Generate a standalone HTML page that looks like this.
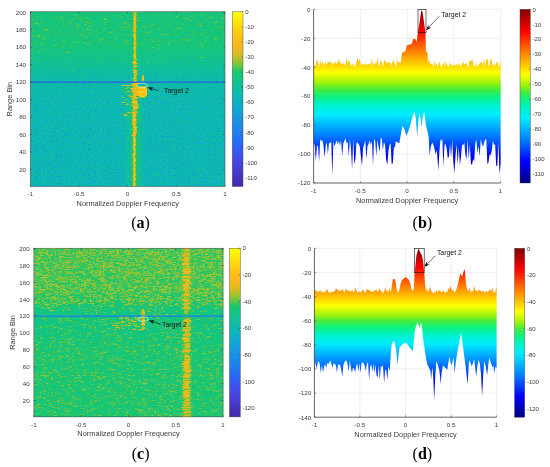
<!DOCTYPE html>
<html><head><meta charset="utf-8"><title>Figure</title>
<style>html,body{margin:0;padding:0;background:#fff}svg{display:block}text{font-family:"Liberation Sans",sans-serif;fill:#3a3a3a}.t{font-size:6.25px}.c{font-size:6px}.l{font-size:7.4px}.a{font-size:6.9px;fill:#111}.cap{font-family:"Liberation Serif",serif;font-size:16px;fill:#000}</style></head><body>
<svg width="550" height="467" viewBox="0 0 550 467">
<defs>
<linearGradient id="par" x1="0" y1="0" x2="0" y2="1"><stop offset="0%" stop-color="#fafa0f"/><stop offset="4.3%" stop-color="#ffed0a"/><stop offset="8.6%" stop-color="#ffd90d"/><stop offset="12.9%" stop-color="#ffc712"/><stop offset="17.2%" stop-color="#fcb81a"/><stop offset="21.6%" stop-color="#f0b81f"/><stop offset="24.1%" stop-color="#d9bd21"/><stop offset="27.6%" stop-color="#a8c22e"/><stop offset="30.2%" stop-color="#78c440"/><stop offset="32.8%" stop-color="#38c75c"/><stop offset="34.5%" stop-color="#1ac76e"/><stop offset="38.8%" stop-color="#12c487"/><stop offset="43.1%" stop-color="#0fbf9e"/><stop offset="47.4%" stop-color="#0dbab2"/><stop offset="51.7%" stop-color="#0ab2c4"/><stop offset="56%" stop-color="#0fa6d4"/><stop offset="60.3%" stop-color="#1799e0"/><stop offset="64.7%" stop-color="#1c8ce8"/><stop offset="69%" stop-color="#1f80f0"/><stop offset="73.3%" stop-color="#2470f5"/><stop offset="77.6%" stop-color="#2e61f5"/><stop offset="81.9%" stop-color="#4052ed"/><stop offset="86.2%" stop-color="#4745e0"/><stop offset="90.5%" stop-color="#473bd1"/><stop offset="94.8%" stop-color="#4533bf"/><stop offset="100%" stop-color="#4029ab"/></linearGradient>
<linearGradient id="jet" x1="0" y1="0" x2="0" y2="1"><stop offset="0%" stop-color="#800000"/><stop offset="12.5%" stop-color="#ff0000"/><stop offset="25%" stop-color="#ff8000"/><stop offset="37.5%" stop-color="#ffff00"/><stop offset="44%" stop-color="#99f20d"/><stop offset="48%" stop-color="#40eb40"/><stop offset="52%" stop-color="#0df280"/><stop offset="57%" stop-color="#00f2cc"/><stop offset="62.5%" stop-color="#00edff"/><stop offset="75%" stop-color="#0080ff"/><stop offset="87.5%" stop-color="#0000ff"/><stop offset="100%" stop-color="#000080"/></linearGradient>
<linearGradient id="jetB" gradientUnits="userSpaceOnUse" x1="0" y1="9.3" x2="0" y2="177.2"><stop offset="0%" stop-color="#800000"/><stop offset="12.5%" stop-color="#ff0000"/><stop offset="25%" stop-color="#ff8000"/><stop offset="37.5%" stop-color="#ffff00"/><stop offset="44%" stop-color="#99f20d"/><stop offset="48%" stop-color="#40eb40"/><stop offset="52%" stop-color="#0df280"/><stop offset="57%" stop-color="#00f2cc"/><stop offset="62.5%" stop-color="#00edff"/><stop offset="75%" stop-color="#0080ff"/><stop offset="87.5%" stop-color="#0000ff"/><stop offset="100%" stop-color="#000080"/></linearGradient>
<linearGradient id="jetD" gradientUnits="userSpaceOnUse" x1="0" y1="248.3" x2="0" y2="400.9"><stop offset="0%" stop-color="#800000"/><stop offset="12.5%" stop-color="#ff0000"/><stop offset="25%" stop-color="#ff8000"/><stop offset="37.5%" stop-color="#ffff00"/><stop offset="44%" stop-color="#99f20d"/><stop offset="48%" stop-color="#40eb40"/><stop offset="52%" stop-color="#0df280"/><stop offset="57%" stop-color="#00f2cc"/><stop offset="62.5%" stop-color="#00edff"/><stop offset="75%" stop-color="#0080ff"/><stop offset="87.5%" stop-color="#0000ff"/><stop offset="100%" stop-color="#000080"/></linearGradient>
<filter id="fa" filterUnits="userSpaceOnUse" x="30.3" y="11.8" width="194.7" height="174.7" color-interpolation-filters="sRGB">
<feTurbulence type="fractalNoise" baseFrequency="0.85" numOctaves="1" seed="3" result="n"/>
<feColorMatrix in="n" type="matrix" values="1 0 0 0 0 1 0 0 0 0 1 0 0 0 0 0 0 0 0 1" result="g"/>
<feComponentTransfer in="g" result="s"><feFuncR type="table" tableValues="1 1 1 1 0.899 0.752 0.626 0.519 0.429 0.353 0.29 0.236 0.19 0.15 0.115 0.084 0.056 0.031 0.008 0 0"/><feFuncG type="table" tableValues="1 1 1 1 0.899 0.752 0.626 0.519 0.429 0.353 0.29 0.236 0.19 0.15 0.115 0.084 0.056 0.031 0.008 0 0"/><feFuncB type="table" tableValues="1 1 1 1 0.899 0.752 0.626 0.519 0.429 0.353 0.29 0.236 0.19 0.15 0.115 0.084 0.056 0.031 0.008 0 0"/></feComponentTransfer>
<feComposite in="SourceGraphic" in2="s" operator="arithmetic" k1="1.6000" k2="0.5040" k3="-1.1920" k4="0.3695"/>
<feComponentTransfer><feFuncR type="table" tableValues="0.25 0.256 0.262 0.268 0.273 0.276 0.28 0.28 0.28 0.277 0.266 0.254 0.235 0.209 0.183 0.167 0.152 0.139 0.131 0.124 0.118 0.115 0.111 0.105 0.097 0.09 0.079 0.068 0.058 0.05 0.043 0.042 0.046 0.05 0.053 0.057 0.061 0.064 0.068 0.075 0.086 0.097 0.18 0.318 0.471 0.588 0.693 0.781 0.861 0.917 0.951 0.969 0.987 0.993 0.997 1 1 1 1 1 1 0.995 0.987 0.98"/><feFuncG type="table" tableValues="0.16 0.172 0.185 0.197 0.208 0.219 0.23 0.245 0.26 0.276 0.294 0.313 0.333 0.355 0.377 0.399 0.422 0.444 0.466 0.488 0.508 0.527 0.545 0.563 0.582 0.6 0.619 0.637 0.656 0.674 0.692 0.706 0.718 0.729 0.736 0.744 0.751 0.759 0.766 0.772 0.775 0.779 0.78 0.776 0.77 0.764 0.757 0.747 0.737 0.725 0.72 0.72 0.72 0.739 0.761 0.784 0.81 0.835 0.863 0.892 0.922 0.943 0.962 0.98"/><feFuncB type="table" tableValues="0.67 0.695 0.719 0.744 0.769 0.795 0.821 0.843 0.865 0.886 0.904 0.923 0.937 0.948 0.959 0.96 0.96 0.959 0.951 0.944 0.935 0.924 0.913 0.902 0.891 0.88 0.861 0.843 0.823 0.801 0.779 0.755 0.729 0.703 0.674 0.645 0.615 0.582 0.549 0.514 0.477 0.44 0.383 0.317 0.25 0.207 0.171 0.148 0.129 0.123 0.116 0.108 0.101 0.09 0.079 0.069 0.062 0.054 0.048 0.045 0.041 0.045 0.053 0.06"/></feComponentTransfer>
</filter>
<filter id="fc" filterUnits="userSpaceOnUse" x="33.9" y="248.2" width="189.2" height="168.7" color-interpolation-filters="sRGB">
<feTurbulence type="fractalNoise" baseFrequency="0.6 0.85" numOctaves="1" seed="11" result="n"/>
<feColorMatrix in="n" type="matrix" values="1 0 0 0 0 1 0 0 0 0 1 0 0 0 0 0 0 0 0 1" result="g"/>
<feComponentTransfer in="g" result="s"><feFuncR type="table" tableValues="0 0 0 0 .101 .248 .374 .481 .571 .647 .71 .764 .81 .85 .885 .916 .944 .969 .992 1 1"/><feFuncG type="table" tableValues="0 0 0 0 .101 .248 .374 .481 .571 .647 .71 .764 .81 .85 .885 .916 .944 .969 .992 1 1"/><feFuncB type="table" tableValues="0 0 0 0 .101 .248 .374 .481 .571 .647 .71 .764 .81 .85 .885 .916 .944 .969 .992 1 1"/></feComponentTransfer>
<feComposite in="SourceGraphic" in2="s" operator="arithmetic" k1="0.0000" k2="1.0000" k3="0.1300" k4="-0.0897"/>
<feComponentTransfer><feFuncR type="table" tableValues="0.25 0.256 0.262 0.268 0.273 0.276 0.28 0.28 0.28 0.277 0.266 0.254 0.235 0.209 0.183 0.167 0.152 0.139 0.131 0.124 0.118 0.115 0.111 0.105 0.097 0.09 0.079 0.068 0.058 0.05 0.043 0.042 0.046 0.05 0.053 0.057 0.061 0.064 0.068 0.075 0.086 0.097 0.18 0.318 0.471 0.588 0.693 0.781 0.861 0.917 0.951 0.969 0.987 0.993 0.997 1 1 1 1 1 1 0.995 0.987 0.98"/><feFuncG type="table" tableValues="0.16 0.172 0.185 0.197 0.208 0.219 0.23 0.245 0.26 0.276 0.294 0.313 0.333 0.355 0.377 0.399 0.422 0.444 0.466 0.488 0.508 0.527 0.545 0.563 0.582 0.6 0.619 0.637 0.656 0.674 0.692 0.706 0.718 0.729 0.736 0.744 0.751 0.759 0.766 0.772 0.775 0.779 0.78 0.776 0.77 0.764 0.757 0.747 0.737 0.725 0.72 0.72 0.72 0.739 0.761 0.784 0.81 0.835 0.863 0.892 0.922 0.943 0.962 0.98"/><feFuncB type="table" tableValues="0.67 0.695 0.719 0.744 0.769 0.795 0.821 0.843 0.865 0.886 0.904 0.923 0.937 0.948 0.959 0.96 0.96 0.959 0.951 0.944 0.935 0.924 0.913 0.902 0.891 0.88 0.861 0.843 0.823 0.801 0.779 0.755 0.729 0.703 0.674 0.645 0.615 0.582 0.549 0.514 0.477 0.44 0.383 0.317 0.25 0.207 0.171 0.148 0.129 0.123 0.116 0.108 0.101 0.09 0.079 0.069 0.062 0.054 0.048 0.045 0.041 0.045 0.053 0.06"/></feComponentTransfer>
</filter>
<clipPath id="ca"><rect x="30.3" y="11.8" width="194.7" height="174.7"/></clipPath>
<clipPath id="cc"><rect x="33.9" y="248.2" width="189.2" height="168.7"/></clipPath>
</defs>
<rect width="550" height="467" fill="#fff"/>
<g clip-path="url(#ca)"><g filter="url(#fa)">
<defs><linearGradient id="ga" gradientUnits="userSpaceOnUse" x1="0" y1="11.8" x2="0" y2="186.5"><stop offset="0.0000" stop-color="#a1a1a1"/><stop offset="0.1900" stop-color="#a1a1a1"/><stop offset="0.2759" stop-color="#999999"/><stop offset="0.3446" stop-color="#8f8f8f"/><stop offset="0.3961" stop-color="#888888"/><stop offset="0.4133" stop-color="#8a8a8a"/><stop offset="0.5049" stop-color="#868686"/><stop offset="0.6766" stop-color="#848484"/><stop offset="1.0000" stop-color="#838383"/></linearGradient></defs>
<rect x="29.3" y="10.8" width="196.7" height="176.7" fill="url(#ga)"/>
<path d="M185.1 40.7h4M157.3 40.1h3M214 39h4M40.4 19.3h2M78.3 33.6h3M50.2 31h2M84.7 30.1h3M61.4 16.1h1.5M55 34.4h1.5M219.6 38.1h1.5M221.6 18.7h2M86.6 29.6h2M70.2 46.9h4M68.6 22.9h3M62.6 21.1h2M81.7 34.7h2M31 24.3h4M168.1 43.2h1.5M123.9 29.8h2M66.3 52.6h3M220.2 16.9h1.5M215.1 22h2M183.7 17.2h2M103.6 18.3h1.5M151.7 47.8h2M53.5 24.9h2M97.4 62.3h2M204.1 37.3h2M176 16.5h2M197.7 25.2h1.5M70.9 70.4h3M149.2 39.7h2M136.4 41.6h2M163.9 57h2M59.3 18.7h4M90.5 22.8h3M222.4 18.5h3M210.1 20.7h1.5M191.2 17.1h3M157 44.2h2M36.7 60.8h3M95.4 31.6h2M215.2 39.1h4M204.8 40.9h3M59.4 33.2h3M87.7 29.4h3M63.3 41.8h3M118.6 29.2h3M83.7 22h3M108.9 32.6h2M133.8 45.9h2M152.4 41.4h3M126.1 24.2h3M182.6 25h3M181.2 39.7h4M144.7 44.4h1.5M167.5 16.1h2M192.9 35.7h2M87.5 19h2M156.8 48.3h3M180.9 29.7h2M161.1 34.8h3M161.5 21.1h2M98 39.9h4M109.8 44.1h2M199.7 57.5h4M95.4 34.7h2M133.4 21.3h2M196.5 21.4h2M164.9 34.6h4M150.4 25.7h3M130.9 34.9h3M199.1 23.9h2M170.6 41.2h1.5M151.8 24.6h2M72.9 42.3h4M222.4 29.6h2M62.6 46.5h2M124.3 59.1h3M37.2 51.8h3M44.3 34h2M76.6 40.9h2M84.5 37.2h3M199 14.9h4M37.3 25.2h3M89 33.4h2M143.4 34h2M189.7 20.4h3M135.1 38.7h3M58 30.1h3M69.1 33.4h2M148.8 31.6h2M104.6 28.8h2M140.5 44h3M201 33.7h3M103.5 19.6h3M123.7 40.2h4M104.2 18.5h2M221.3 28.9h3M79.2 24.5h1.5M126 41.5h2M58.2 72.3h1.5M116.6 36.9h2M38.1 36.1h2M134 16.5h2M77.7 18h3M82.4 18.1h2M170.8 31h2M122.7 22.9h4M198.4 43.8h4M54.8 17.9h2M134.2 17.2h2M35.5 41.8h2M100.6 38.1h4M30.9 19.3h3M119 25.6h1.5M33.1 35.9h3M146.1 32.7h4M124.1 22.9h3M122.9 44.8h4M88 23.5h1.5M89.4 26.5h1.5M86.1 22.8h3M207.6 36.8h2M203.3 32h2M135 44h3M43.6 49.3h2M82.3 35.5h1.5M35.3 23.2h4M113.9 46.2h1.5M39.8 49h1.5M73 15.2h4M204.5 19.6h2M167.7 24.3h3M110.9 32.6h2M43.4 39.2h2M104.1 24.9h1.5M84.8 17.6h3M201.3 47.1h2M32.2 31.3h1.5M125.6 26.6h4M103.2 42.2h1.5M141 26.7h4M128.8 28.8h3M42.6 29.6h2M79.8 19.6h2M75.9 26.5h2M118.6 16.1h3M157.8 29.7h1.5M141.9 46.2h1.5M145.9 24.3h2M106.2 21h3M185.4 34.1h1.5M135.8 17.2h3M215.7 26.7h4M185 19h4M159.8 58.8h2M57.5 54.1h3M86.7 44.5h3M167.6 44.2h3M100.1 40.2h2M186.9 39.2h3M37.4 35h3M72.1 19.8h2M36.8 22.7h2M68.4 20.9h3M178.3 34.1h1.5M113.4 31h2M113.8 38.3h3M120.2 34.3h2M103.2 22.1h3M199.5 25.5h3M84.3 24.5h2M176.4 28.6h4M36.5 17.1h2M91.8 39.9h1.5M122.1 27.4h2M53.3 45.2h4M77 25.7h2M36.8 36.4h4M45.5 30.5h3M207.8 17.3h4M121.4 27.3h2M43.3 29.1h4M64.5 52.1h2M213.4 22.4h4M83 42.3h3M42.2 37.2h4M137.1 20.4h3M140.3 18.4h1.5M186.7 18.2h1.5M212.5 30.6h1.5M127.1 27.8h1.5M39.6 43.7h3M200.7 44.5h2M65.2 25.3h3M75.8 23.8h2M184.3 25.8h1.5M146.8 62.7h4M72 27.7h1.5" stroke="#b2b2b2" stroke-width="1" fill="none"/>
<path d="M99.9 129.2h2M103.6 142.6h3M32.7 97.6h2M203.9 154.6h1.5M57.3 140.8h2M180.7 93h2M55.6 116.1h1.5M166 132.3h2M160 183.2h2M166.7 90.3h1.5M185.3 156.1h2M44.3 174.8h2M180.1 122.9h1.5M157.7 175.8h1.5M116.4 142.9h3M216.2 151.2h3M113.6 88.8h1.5M104.8 167.2h1.5M90 116.9h1.5M161.9 110.9h2M135.9 87.5h3M35.6 141.1h1.5M191.2 183.4h2M215.1 172.1h3M133 85.7h1.5M94.6 121.1h1.5M150.9 100.7h1.5M48.9 158.5h3M153.1 146.1h1.5M213 129.7h2M92 96.1h1.5M114.8 131.3h2M160.4 89h1.5M219.1 138.6h3M55 84.2h2M70.7 154.3h1.5M142.6 87.4h2M99.3 156.3h2M84.2 106.1h1.5M130.7 115.1h1.5M187.8 121.6h3M195.8 170.1h3M98.3 134.7h1.5M125.7 169.2h1.5M107.6 93.6h3M209.6 112.8h2M121.8 132.9h3M186.1 147.9h2M50.5 154.6h3M66.3 144.1h2M162.3 86.3h3M104.8 116h2M164.8 139.9h2M189.1 184.7h3M42.2 141.1h1.5M100.9 165.9h3M180.2 86.1h1.5M45.4 113.1h1.5M149.2 163.3h3M218.9 126.3h1.5M169.7 112.1h1.5M47.5 87.9h2M164.2 176h3M139.7 146.1h2M204.8 137h1.5M183.3 119.1h2M30.9 124.3h2M176.5 122.7h3M207.5 176.2h3M93.4 116.9h3M164.3 175.2h2M49.8 109.5h2M82.4 115.3h3M215.4 92h1.5M179.5 148.9h1.5M141.3 151.2h3M201.4 169.1h3M75.2 125.7h2M206.5 138.2h2M46.7 126.9h2M36.2 103.2h1.5M138.4 114.3h3M67.3 102.8h3M183.5 94.5h2M42.3 158.7h2M131.4 98.1h1.5M195.9 116.6h3M205.9 123.4h3M185.6 147.1h1.5M161.2 84.2h1.5M59.9 93.5h3M142.2 161.9h2M189.2 159.5h1.5M210.2 157.1h3M218.2 148.1h1.5M188.8 121.4h1.5M103.2 105.2h2M222.6 175.3h1.5M213.6 109.2h2M53.2 122.5h3M56.1 182.6h1.5M217.7 134.8h3M178.2 91.4h3M33.4 157h2M176.5 186.4h1.5M104.7 178.1h2M155.4 176.8h1.5M87.9 143h2M42.6 180.7h2M112.2 89.2h1.5M170.5 111.8h1.5M49 111.8h2M65.3 128.3h2M78 171.7h2M188.2 120.5h1.5M57.7 167.8h1.5M139.8 86.2h2M45.6 173h1.5M186.7 103.9h1.5M46.9 132.4h2" stroke="#9e9e9e" stroke-width="1" fill="none"/>
<rect x="131.4" y="11.8" width="7" height="174.7" fill="#adadad" opacity="0.45"/>
<rect x="125.9" y="97" width="17" height="89.5" fill="#999999" opacity="0.55"/>
<rect x="129.9" y="97" width="9" height="89.5" fill="#a6a6a6" opacity="0.6"/>
<rect x="134" y="11.8" width="2.3" height="1.1" fill="#cccccc"/>
<rect x="133.5" y="12.8" width="2.3" height="1.1" fill="#cccccc"/>
<rect x="133.7" y="13.8" width="2.5" height="1.1" fill="#bdbdbd"/>
<rect x="133.7" y="14.8" width="2.6" height="1.1" fill="#bdbdbd"/>
<rect x="133.4" y="15.8" width="2.4" height="1.1" fill="#dbdbdb"/>
<rect x="134" y="16.8" width="2.2" height="1.1" fill="#cccccc"/>
<rect x="133.5" y="17.8" width="2.6" height="1.1" fill="#d6d6d6"/>
<rect x="133.4" y="18.8" width="2.6" height="1.1" fill="#d6d6d6"/>
<rect x="134.1" y="19.8" width="2.2" height="1.1" fill="#d1d1d1"/>
<rect x="133.8" y="20.8" width="2" height="1.1" fill="#d1d1d1"/>
<rect x="133.8" y="21.8" width="1.9" height="1.1" fill="#dbdbdb"/>
<rect x="133.4" y="22.8" width="2.4" height="1.1" fill="#d6d6d6"/>
<rect x="133.4" y="23.8" width="2.5" height="1.1" fill="#cccccc"/>
<rect x="133.9" y="24.8" width="1.8" height="1.1" fill="#d6d6d6"/>
<rect x="133.6" y="25.8" width="2" height="1.1" fill="#cccccc"/>
<rect x="133.6" y="26.8" width="2.7" height="1.1" fill="#d6d6d6"/>
<rect x="133.5" y="27.8" width="2.2" height="1.1" fill="#d1d1d1"/>
<rect x="133.2" y="28.8" width="2.6" height="1.1" fill="#d6d6d6"/>
<rect x="133.3" y="29.8" width="2.5" height="1.1" fill="#d6d6d6"/>
<rect x="133.6" y="30.8" width="2.5" height="1.1" fill="#d6d6d6"/>
<rect x="133.9" y="31.8" width="1.9" height="1.1" fill="#bdbdbd"/>
<rect x="133.7" y="32.8" width="1.9" height="1.1" fill="#cccccc"/>
<rect x="133.7" y="33.8" width="2.1" height="1.1" fill="#cccccc"/>
<rect x="133.7" y="34.8" width="2.3" height="1.1" fill="#d6d6d6"/>
<rect x="133.3" y="35.8" width="2.7" height="1.1" fill="#dbdbdb"/>
<rect x="133.9" y="36.8" width="2.3" height="1.1" fill="#d6d6d6"/>
<rect x="134" y="37.8" width="2" height="1.1" fill="#dbdbdb"/>
<rect x="134.2" y="38.8" width="1.8" height="1.1" fill="#cccccc"/>
<rect x="134" y="39.8" width="2" height="1.1" fill="#d6d6d6"/>
<rect x="133.3" y="40.8" width="2.5" height="1.1" fill="#bdbdbd"/>
<rect x="134" y="41.8" width="2" height="1.1" fill="#d1d1d1"/>
<rect x="133.7" y="42.8" width="2.5" height="1.1" fill="#cccccc"/>
<rect x="133.9" y="43.8" width="2.2" height="1.1" fill="#d1d1d1"/>
<rect x="133.6" y="44.8" width="2.3" height="1.1" fill="#bdbdbd"/>
<rect x="133.9" y="45.8" width="2.6" height="1.1" fill="#cccccc"/>
<rect x="133.6" y="46.8" width="2.1" height="1.1" fill="#dbdbdb"/>
<rect x="133.4" y="47.8" width="2.4" height="1.1" fill="#d6d6d6"/>
<rect x="133.7" y="48.8" width="2.3" height="1.1" fill="#bdbdbd"/>
<rect x="133.9" y="49.8" width="2.1" height="1.1" fill="#cccccc"/>
<rect x="133.8" y="50.8" width="1.9" height="1.1" fill="#cccccc"/>
<rect x="134" y="51.8" width="1.8" height="1.1" fill="#bdbdbd"/>
<rect x="133.5" y="52.8" width="2.2" height="1.1" fill="#dbdbdb"/>
<rect x="134.2" y="53.8" width="1.9" height="1.1" fill="#d1d1d1"/>
<rect x="133.4" y="54.8" width="2.7" height="1.1" fill="#d1d1d1"/>
<rect x="133.5" y="55.8" width="2.2" height="1.1" fill="#dbdbdb"/>
<rect x="134.1" y="56.8" width="2" height="1.1" fill="#d1d1d1"/>
<rect x="133.9" y="57.8" width="2.1" height="1.1" fill="#d6d6d6"/>
<rect x="133.3" y="58.8" width="4.1" height="1.1" fill="#bdbdbd"/>
<rect x="133.4" y="59.8" width="4.6" height="1.1" fill="#adadad"/>
<rect x="133.1" y="60.8" width="2.7" height="1.1" fill="#d1d1d1"/>
<rect x="132.5" y="61.8" width="3.7" height="1.1" fill="#dbdbdb"/>
<rect x="133.3" y="62.8" width="4.1" height="1.1" fill="#dbdbdb"/>
<rect x="133.8" y="63.8" width="2.5" height="1.1" fill="#bdbdbd"/>
<rect x="133.3" y="64.8" width="4.1" height="1.1" fill="#adadad"/>
<rect x="133.4" y="65.8" width="3.8" height="1.1" fill="#dbdbdb"/>
<rect x="133.5" y="66.8" width="4.1" height="1.1" fill="#adadad"/>
<rect x="133.2" y="67.8" width="2.6" height="1.1" fill="#bdbdbd"/>
<rect x="133.7" y="68.8" width="3.1" height="1.1" fill="#adadad"/>
<rect x="132.4" y="69.8" width="4.1" height="1.1" fill="#d1d1d1"/>
<rect x="134.3" y="70.8" width="2.7" height="1.1" fill="#d1d1d1"/>
<rect x="133.1" y="71.8" width="3.5" height="1.1" fill="#d1d1d1"/>
<rect x="134" y="72.8" width="3.6" height="1.1" fill="#bdbdbd"/>
<rect x="133.8" y="73.8" width="3.3" height="1.1" fill="#d1d1d1"/>
<rect x="133.8" y="74.8" width="3.2" height="1.1" fill="#bdbdbd"/>
<rect x="133.7" y="75.8" width="2.6" height="1.1" fill="#dbdbdb"/>
<rect x="133.1" y="76.8" width="3.9" height="1.1" fill="#adadad"/>
<rect x="132.7" y="77.8" width="4" height="1.1" fill="#d6d6d6"/>
<rect x="132.4" y="78.8" width="4.6" height="1.1" fill="#adadad"/>
<rect x="133.6" y="79.8" width="3.5" height="1.1" fill="#dbdbdb"/>
<rect x="133.5" y="80.8" width="2.7" height="1.1" fill="#bdbdbd"/>
<rect x="134.1" y="81.8" width="3.6" height="1.1" fill="#d6d6d6"/>
<rect x="132.7" y="82.8" width="6" height="1.1" fill="#c7c7c7"/>
<rect x="131.5" y="83.8" width="6" height="1.1" fill="#d1d1d1"/>
<rect x="131.6" y="84.8" width="4.8" height="1.1" fill="#d1d1d1"/>
<rect x="133.5" y="85.8" width="5.4" height="1.1" fill="#b2b2b2"/>
<rect x="133.2" y="86.8" width="4.7" height="1.1" fill="#dbdbdb"/>
<rect x="130.1" y="87.8" width="7.8" height="1.1" fill="#dbdbdb"/>
<rect x="131.5" y="88.8" width="5" height="1.1" fill="#d1d1d1"/>
<rect x="131.8" y="89.8" width="7.3" height="1.1" fill="#dbdbdb"/>
<rect x="131.8" y="90.8" width="7" height="1.1" fill="#d6d6d6"/>
<rect x="132.7" y="91.8" width="6.4" height="1.1" fill="#d1d1d1"/>
<rect x="134.3" y="92.8" width="3.9" height="1.1" fill="#dbdbdb"/>
<rect x="132.1" y="93.8" width="4.9" height="1.1" fill="#d1d1d1"/>
<rect x="133.6" y="94.8" width="5.3" height="1.1" fill="#dbdbdb"/>
<rect x="132" y="95.8" width="3.8" height="1.1" fill="#dbdbdb"/>
<rect x="132.2" y="96.8" width="7.7" height="1.1" fill="#b2b2b2"/>
<rect x="132.4" y="97.8" width="5.3" height="1.1" fill="#dbdbdb"/>
<rect x="131.5" y="98.8" width="4.5" height="1.1" fill="#b2b2b2"/>
<rect x="132.7" y="99.8" width="5.9" height="1.1" fill="#b2b2b2"/>
<rect x="132.3" y="100.8" width="5" height="1.1" fill="#dbdbdb"/>
<rect x="131.2" y="101.8" width="5.6" height="1.1" fill="#d6d6d6"/>
<rect x="133.3" y="102.8" width="4" height="1.1" fill="#dbdbdb"/>
<rect x="132.5" y="103.8" width="6.4" height="1.1" fill="#c7c7c7"/>
<rect x="131.8" y="104.8" width="5.5" height="1.1" fill="#b2b2b2"/>
<rect x="133.4" y="105.8" width="5.5" height="1.1" fill="#dbdbdb"/>
<rect x="133" y="106.8" width="4.4" height="1.1" fill="#d6d6d6"/>
<rect x="133" y="107.8" width="5.2" height="1.1" fill="#d6d6d6"/>
<rect x="133.6" y="108.8" width="5" height="1.1" fill="#b2b2b2"/>
<rect x="132.7" y="109.8" width="3.8" height="1.1" fill="#c7c7c7"/>
<rect x="132.9" y="110.8" width="4.9" height="1.1" fill="#b2b2b2"/>
<rect x="131.3" y="111.8" width="6.4" height="1.1" fill="#d6d6d6"/>
<rect x="132.1" y="112.8" width="4" height="1.1" fill="#c2c2c2"/>
<rect x="133.2" y="113.8" width="3.3" height="1.1" fill="#dbdbdb"/>
<rect x="132.7" y="114.8" width="2.7" height="1.1" fill="#dbdbdb"/>
<rect x="132.4" y="115.8" width="3.4" height="1.1" fill="#d6d6d6"/>
<rect x="132.5" y="116.8" width="2.8" height="1.1" fill="#c2c2c2"/>
<rect x="133" y="117.8" width="3" height="1.1" fill="#d6d6d6"/>
<rect x="132.4" y="118.8" width="4.2" height="1.1" fill="#d1d1d1"/>
<rect x="132.3" y="119.8" width="3.7" height="1.1" fill="#d1d1d1"/>
<rect x="132.6" y="120.8" width="3.9" height="1.1" fill="#dbdbdb"/>
<rect x="132.3" y="121.8" width="2.9" height="1.1" fill="#c2c2c2"/>
<rect x="132.6" y="122.8" width="3.8" height="1.1" fill="#d1d1d1"/>
<rect x="131.9" y="123.8" width="3.7" height="1.1" fill="#d1d1d1"/>
<rect x="133" y="124.8" width="2.7" height="1.1" fill="#c2c2c2"/>
<rect x="133.3" y="125.8" width="3.2" height="1.1" fill="#d1d1d1"/>
<rect x="133" y="126.8" width="3.8" height="1.1" fill="#dbdbdb"/>
<rect x="134" y="127.8" width="2.4" height="1.1" fill="#d1d1d1"/>
<rect x="132.1" y="128.8" width="4.5" height="1.1" fill="#d1d1d1"/>
<rect x="133.4" y="129.8" width="3.3" height="1.1" fill="#c2c2c2"/>
<rect x="133.3" y="130.8" width="3.1" height="1.1" fill="#d1d1d1"/>
<rect x="132.7" y="131.8" width="4" height="1.1" fill="#dbdbdb"/>
<rect x="133.1" y="132.8" width="2.8" height="1.1" fill="#dbdbdb"/>
<rect x="132.7" y="133.8" width="3.6" height="1.1" fill="#c2c2c2"/>
<rect x="131.6" y="134.8" width="4.2" height="1.1" fill="#dbdbdb"/>
<rect x="132.8" y="135.8" width="2.5" height="1.1" fill="#d6d6d6"/>
<rect x="133" y="136.8" width="2.2" height="1.1" fill="#bdbdbd"/>
<rect x="133.4" y="137.8" width="2.2" height="1.1" fill="#dbdbdb"/>
<rect x="133.2" y="138.8" width="2.4" height="1.1" fill="#d6d6d6"/>
<rect x="133.3" y="139.8" width="2.6" height="1.1" fill="#d6d6d6"/>
<rect x="133" y="140.8" width="2.7" height="1.1" fill="#bdbdbd"/>
<rect x="133.2" y="141.8" width="2.4" height="1.1" fill="#d6d6d6"/>
<rect x="132.8" y="142.8" width="2.7" height="1.1" fill="#bdbdbd"/>
<rect x="133.3" y="143.8" width="2.6" height="1.1" fill="#dbdbdb"/>
<rect x="132.9" y="144.8" width="2.9" height="1.1" fill="#dbdbdb"/>
<rect x="132.9" y="145.8" width="2.1" height="1.1" fill="#dbdbdb"/>
<rect x="133" y="146.8" width="2.2" height="1.1" fill="#d6d6d6"/>
<rect x="133" y="147.8" width="2.5" height="1.1" fill="#cccccc"/>
<rect x="133.1" y="148.8" width="2.5" height="1.1" fill="#dbdbdb"/>
<rect x="133.1" y="149.8" width="2.8" height="1.1" fill="#bdbdbd"/>
<rect x="133.3" y="150.8" width="2.6" height="1.1" fill="#bdbdbd"/>
<rect x="133.3" y="151.8" width="2.6" height="1.1" fill="#bdbdbd"/>
<rect x="133.3" y="152.8" width="2.2" height="1.1" fill="#cccccc"/>
<rect x="132.6" y="153.8" width="3" height="1.1" fill="#dbdbdb"/>
<rect x="132.7" y="154.8" width="2.7" height="1.1" fill="#bdbdbd"/>
<rect x="132.8" y="155.8" width="2.4" height="1.1" fill="#d6d6d6"/>
<rect x="132.7" y="156.8" width="2.4" height="1.1" fill="#dbdbdb"/>
<rect x="133.3" y="157.8" width="2.3" height="1.1" fill="#cccccc"/>
<rect x="133.3" y="158.8" width="2.4" height="1.1" fill="#dbdbdb"/>
<rect x="133" y="159.8" width="2.9" height="1.1" fill="#d6d6d6"/>
<rect x="133.6" y="160.8" width="2.1" height="1.1" fill="#d6d6d6"/>
<rect x="132.7" y="161.8" width="2.4" height="1.1" fill="#cccccc"/>
<rect x="132.8" y="162.8" width="2.5" height="1.1" fill="#d1d1d1"/>
<rect x="133.2" y="163.8" width="2.8" height="1.1" fill="#cccccc"/>
<rect x="132.8" y="164.8" width="2.8" height="1.1" fill="#bdbdbd"/>
<rect x="133" y="165.8" width="2.9" height="1.1" fill="#cccccc"/>
<rect x="132.7" y="166.8" width="2.7" height="1.1" fill="#bdbdbd"/>
<rect x="133.3" y="167.8" width="2.3" height="1.1" fill="#dbdbdb"/>
<rect x="133.2" y="168.8" width="2.2" height="1.1" fill="#d6d6d6"/>
<rect x="132.8" y="169.8" width="2.4" height="1.1" fill="#bdbdbd"/>
<rect x="133.3" y="170.8" width="2.4" height="1.1" fill="#d1d1d1"/>
<rect x="133.2" y="171.8" width="2.2" height="1.1" fill="#cccccc"/>
<rect x="133" y="172.8" width="2.9" height="1.1" fill="#bdbdbd"/>
<rect x="133.3" y="173.8" width="2.5" height="1.1" fill="#d1d1d1"/>
<rect x="133.2" y="174.8" width="2.7" height="1.1" fill="#cccccc"/>
<rect x="132.8" y="175.8" width="2.2" height="1.1" fill="#dbdbdb"/>
<rect x="132.8" y="176.8" width="2.7" height="1.1" fill="#cccccc"/>
<rect x="133.2" y="177.8" width="2.3" height="1.1" fill="#d1d1d1"/>
<rect x="133" y="178.8" width="2.6" height="1.1" fill="#d6d6d6"/>
<rect x="133.2" y="179.8" width="2.4" height="1.1" fill="#dbdbdb"/>
<rect x="133" y="180.8" width="2.2" height="1.1" fill="#bdbdbd"/>
<rect x="133.3" y="181.8" width="2.1" height="1.1" fill="#d6d6d6"/>
<rect x="133.4" y="182.8" width="2.1" height="1.1" fill="#d1d1d1"/>
<rect x="133.4" y="183.8" width="2.1" height="1.1" fill="#cccccc"/>
<rect x="133.1" y="184.8" width="2.2" height="1.1" fill="#dbdbdb"/>
<rect x="133.3" y="185.8" width="2.3" height="1.1" fill="#dbdbdb"/>
<path d="M131.6 115.7h4M128.9 113.9h2M126.7 87.3h3M123.9 92.9h3M125.8 94.9h2M126.7 117h3M127.7 112.6h2M123.8 115.8h2M128.1 91.1h3M124.5 88.8h2M121.4 97.4h3M131.2 89.1h3M132.6 87.1h4M120.8 113.9h2M124 114.5h3M126.5 112.3h3M121.2 102.4h4M125.9 104.2h4M129.5 92.3h3M120.8 90h3M124 114.1h3M132.2 99.5h2M125.8 91.6h4M127.4 95.8h4M131.8 110.2h2M123.8 115.5h3M128.5 95.1h2M123.9 99.9h4M129 96.6h4M125.1 104h3M131 105.8h2M133 97.7h4M125.7 88.8h3M130.2 97.9h4M121.5 85.6h16" stroke="#c2c2c2" stroke-width="1" fill="none"/>
<path d="M139.2 86.6h6.6l1.6 3v5l-2 2.8h-5.6l-2.2-2.8v-5z" fill="#dbdbdb"/>
<rect x="141.8" y="75.4" width="2.2" height="5.4" fill="#d6d6d6"/>
</g>
<rect x="29.3" y="81.55" width="196.7" height="1.3" fill="#2a5ee6" opacity="0.92"/>
</g>
<ellipse cx="142.1" cy="85.3" rx="5.7" ry="2.1" fill="none" stroke="#eef2cc" stroke-width="0.7"/>
<path d="M158.6 90.9L151.42 88.55" stroke="#000" stroke-width="0.55" fill="none"/>
<path d="M147.9 87.4L153.65 87.18L151.42 88.55L152.41 90.98z" fill="#000"/>
<text class="a" x="164" y="93">Target 2</text>
<rect x="30.3" y="11.8" width="194.7" height="174.7" fill="none" stroke="#3c3c3c" stroke-width="0.5"/>
<text class="t" x="26.1" y="171.7" text-anchor="end">20</text>
<text class="t" x="26.1" y="154.2" text-anchor="end">40</text>
<text class="t" x="26.1" y="136.8" text-anchor="end">60</text>
<text class="t" x="26.1" y="119.3" text-anchor="end">80</text>
<text class="t" x="26.1" y="101.8" text-anchor="end">100</text>
<text class="t" x="26.1" y="84.4" text-anchor="end">120</text>
<text class="t" x="26.1" y="66.9" text-anchor="end">140</text>
<text class="t" x="26.1" y="49.4" text-anchor="end">160</text>
<text class="t" x="26.1" y="32" text-anchor="end">180</text>
<text class="t" x="26.1" y="14.5" text-anchor="end">200</text>
<text class="t" x="30.3" y="196.3" text-anchor="middle">-1</text>
<text class="t" x="79" y="196.3" text-anchor="middle">-0.5</text>
<text class="t" x="127.6" y="196.3" text-anchor="middle">0</text>
<text class="t" x="176.3" y="196.3" text-anchor="middle">0.5</text>
<text class="t" x="225" y="196.3" text-anchor="middle">1</text>
<path d="M30.3 169.5h1.8M225 169.5h-1.8M30.3 152h1.8M225 152h-1.8M30.3 134.5h1.8M225 134.5h-1.8M30.3 117.1h1.8M225 117.1h-1.8M30.3 99.6h1.8M225 99.6h-1.8M30.3 82.1h1.8M225 82.1h-1.8M30.3 64.6h1.8M225 64.6h-1.8M30.3 47.2h1.8M225 47.2h-1.8M30.3 29.7h1.8M225 29.7h-1.8M30.3 12.2h1.8M225 12.2h-1.8M30.3 186.5v-1.8M30.3 11.8v1.8M79 186.5v-1.8M79 11.8v1.8M127.6 186.5v-1.8M127.6 11.8v1.8M176.3 186.5v-1.8M176.3 11.8v1.8M225 186.5v-1.8M225 11.8v1.8" stroke="#3c3c3c" stroke-width="0.5" fill="none"/>
<text class="l" x="127.7" y="206" text-anchor="middle">Normalized Doppler Frequency</text>
<text class="l" transform="translate(11.5 99.2) rotate(-90)" text-anchor="middle">Range Bin</text>
<rect x="232.3" y="11.8" width="10.7" height="174.7" fill="url(#par)" stroke="#3c3c3c" stroke-width="0.4"/>
<text class="c" x="245.2" y="14">0</text>
<text class="c" x="245.2" y="29.1">-10</text>
<text class="c" x="245.2" y="44.1">-20</text>
<text class="c" x="245.2" y="59.2">-30</text>
<text class="c" x="245.2" y="74.2">-40</text>
<text class="c" x="245.2" y="89.3">-50</text>
<text class="c" x="245.2" y="104.4">-60</text>
<text class="c" x="245.2" y="119.4">-70</text>
<text class="c" x="245.2" y="134.5">-80</text>
<text class="c" x="245.2" y="149.5">-90</text>
<text class="c" x="245.2" y="164.6">-100</text>
<text class="c" x="245.2" y="179.7">-110</text>
<path d="M243 11.8h-1.5M243 26.9h-1.5M243 41.9h-1.5M243 57h-1.5M243 72h-1.5M243 87.1h-1.5M243 102.2h-1.5M243 117.2h-1.5M243 132.3h-1.5M243 147.3h-1.5M243 162.4h-1.5M243 177.5h-1.5" stroke="#3c3c3c" stroke-width="0.5" fill="none"/>
<g clip-path="url(#cc)"><g filter="url(#fc)">
<defs><linearGradient id="gc" gradientUnits="userSpaceOnUse" x1="0" y1="248.2" x2="0" y2="416.9"><stop offset="0.0000" stop-color="#aaaaaa"/><stop offset="0.2596" stop-color="#a9a9a9"/><stop offset="0.3367" stop-color="#a2a2a2"/><stop offset="0.3900" stop-color="#9d9d9d"/><stop offset="0.4849" stop-color="#9e9e9e"/><stop offset="0.6034" stop-color="#a3a3a3"/><stop offset="1.0000" stop-color="#a4a4a4"/></linearGradient></defs>
<rect x="32.9" y="247.2" width="191.2" height="170.7" fill="url(#gc)"/>
<path d="M103.3 275h2M161.3 259h2.5M203.7 277.3h1.5M210.9 267.5h1.5M64.3 290.3h3M112.7 303.2h2M53.1 262h4M221.4 298.6h1.5M105.3 292.9h1.5M71.1 301.3h2M112.5 290.1h1.5M206.2 292.9h3M186.7 264.5h2M32.9 289.2h3M104.3 251.4h3M77.2 256.2h1.5M32.6 303.9h4M194.8 259.6h2.5M47.9 248.7h4M127.7 301.2h4M208 276.9h3M68.6 252.2h1.5M59.7 288.7h4M39.8 289.8h2.5M147.8 280.3h2M172.8 291.3h4M55.1 305.9h3M77.2 303.2h4M172.6 277.4h4M180 282.3h1.5M52.9 298.3h4M72.1 269.3h2M141.7 305.2h1.5M148.1 270.1h1.5M72.7 273.3h3M187.7 263.8h2.5M51.6 284.6h1.5M181.2 249.7h3M167.5 276.9h2M44.6 280.9h2M177.4 253.7h4M196.3 269.8h2.5M87.4 256.2h2.5M211.5 249.9h2M63.3 263.4h1.5M34.2 283.3h1.5M182.3 274.2h2.5M216.7 283.5h2.5M123.9 264.7h2.5M48.5 256.1h4M54.4 265.3h3M166.5 274.3h3M185.4 282.2h2.5M200.2 292.8h3M208.4 268.4h2.5M65 278.8h1.5M182.9 257.6h1.5M122.5 259.9h4M106.1 280.5h2M145.3 279.9h2.5M211.9 279.1h1.5M143.8 281.8h3M132 279.7h4M184.1 285.3h4M89.3 279.5h2M51.6 289.9h3M125.6 274.4h1.5M37.5 287.4h2M76.1 299h4M199.4 284.3h1.5M48.1 284.2h1.5M109.7 287.4h1.5M38.4 252.9h2M37.6 253.1h4M134.3 275.4h1.5M46.3 288.9h1.5M33.5 293.4h3M218.6 282.3h3M52.2 296.3h2.5M118.2 287h2M74.2 259.3h1.5M46.2 251.2h1.5M173.6 269.7h3M70.3 284.4h1.5M80.9 261.8h4M34.9 287.7h2.5M36.2 302.8h1.5M111.7 278.2h2.5M92.1 275.7h2M162.1 285.1h2M184.9 265.5h2.5M204.3 293.6h1.5M207.8 298.9h1.5M115.9 249.9h3M125.9 283.1h2.5M202.5 299.1h3M84.7 260.3h3M208.7 275.2h3M67.5 273.6h3M49.5 251.6h2.5M68 279.6h2.5M58.2 286.3h1.5M117.4 267.7h4M211.7 282.9h3M135.5 260.4h2.5M160 252.6h3M197.7 275.4h2.5M184.7 292.4h4M169 253.9h2.5M71.1 301.2h2M208 248.8h1.5M94.7 253.5h1.5M182.9 277.7h3M107.5 285.7h4M57.7 277.5h2.5M83.5 268.9h2.5M140.4 301.1h4M66 293.1h2M162.7 248.7h1.5M131.8 264.3h3M176.2 300.7h2.5M130.7 264.7h3M76.3 287.5h2.5M161.6 256.7h4M85.2 251.1h2.5M67.5 249.7h1.5M97 274.4h4M112.7 256h4M163 259.9h3M138 248.8h1.5M168.7 302.3h3M103.1 269.7h3M115.5 299.5h2M207.4 280.3h4M99.7 253.1h2M217.2 292.6h2M34.2 292.2h4M74.5 267.6h2M168.9 249.8h4M70.2 281.8h2.5M56.7 264.6h2.5M46.5 271.1h2M216.3 274.4h1.5M192.3 266.4h4M153.7 289.3h4M104.8 301.6h4M104.4 257h3M111.5 256.3h2M159.2 296.5h4M216.3 253.7h4M103.4 263.3h2.5M222.8 279.2h1.5M120.5 285.6h1.5M34.8 260.1h3M80.6 289.9h2.5M66 261.2h3M102.7 302.3h2.5M206.9 266.9h4M57.3 287.5h2M72.2 253.3h2.5M167.6 296.8h2.5M179.6 268.6h1.5M109.9 253.6h3M43.2 302.7h4M141.5 257.2h3M158.6 269.2h2.5M130.5 290h3M218.1 250.2h2.5M87.5 264.2h3M133.7 294.3h1.5M100.5 251.5h2M101.7 272.1h2.5M214.2 252h3M171.5 277.6h1.5M184.6 285.7h2.5M35.6 272.7h3M81.4 252.8h2M214.9 304.5h3M37.6 258h2.5M131.1 289.3h4M70.3 281.6h4M128.7 254.1h2M46 304.4h4M59.4 286.5h3M69.8 299.6h3M171.4 264.6h4M91.9 285.4h4M120.5 292.9h4M167.5 278.9h1.5M176.1 252.9h2.5M123.3 252.5h4M148.5 303.2h3M134.3 288.5h1.5M34.3 281.6h2.5M143.5 273.5h4M178.2 288.6h2M193.4 264.1h2.5M116.4 277.7h4M222.9 303.3h2.5M62.9 292.9h2.5M92.8 288.4h3M181.6 252.9h2.5M215.6 300.8h2.5M43.4 265.6h3M45.2 294.9h3M88.2 261.6h3M39.9 274.3h2M163.1 257.7h1.5M47.2 281.4h2.5M201.9 248.7h1.5M64.6 274h1.5M220.3 263.6h1.5M187.7 292.1h2.5M81.6 284.6h2M218.1 289.1h2M134.6 276.7h3M159 304h3M165 262.4h2.5M60.9 263.6h2M147.7 291.6h3M127.5 255.9h4M149.6 254.3h3M187.6 279.8h2M186.3 261h2M209.8 268.9h1.5M32 254.4h4M102.2 275h2M135.9 287.4h1.5M81 284.4h4M102.3 267.9h2.5M83 294.1h2M192.8 271.6h1.5M60.9 261.9h1.5M66.5 287.6h1.5M108.9 284.4h3M163.8 289.5h4M46.1 286h2M155.5 264.5h2M133.4 256.4h1.5M202.2 269.5h4M85.8 281.6h1.5M181.6 248.3h4M131.8 291.3h2.5M84.8 302.8h2M159.1 287.3h2M68.5 297.3h3M170.6 289.2h1.5M168.2 297.4h1.5M192.3 291.1h2.5M155 294.8h4M137.1 252.4h2M129.9 287.1h1.5M73.2 253.6h1.5M158.9 274.8h4M145.1 286.5h1.5M136.9 293.6h2.5M81.1 292.6h1.5M164.8 250.6h2M165.2 292.4h2.5M140.3 301.7h2M42 249.7h1.5M98.6 289.1h1.5M221.9 255.8h4M133.8 288h2.5M146.5 305.7h4M69.5 276.8h2.5M122 273.8h2M62.3 256.4h1.5M174.2 272.8h2.5M50.1 275.1h1.5M189.2 256h1.5M130 304.1h2.5M84.6 255.1h3M182 260.5h3M154.4 260.8h4M99.3 300.2h2M40.4 252.2h1.5M202.5 267.4h1.5M118.6 293.8h3M168.3 284.7h4M174.4 286.7h2M211.6 292.1h2.5M41.1 251.4h2.5M36.9 274.6h3M113.9 251.2h2.5M109.5 251.4h3M208.4 283.1h2.5M35.5 268.1h3M110.8 298.3h1.5M113.9 291.7h2.5M137.6 265.1h1.5M213.4 284.5h3M214.2 267.9h1.5M76.9 266.4h3M169.2 305.8h4M98.4 284.8h3M216.6 286.5h2M102.4 303.5h3M140.2 262.4h2.5M53.8 298.9h2.5M145.4 252.1h2.5M212.4 275h3M161.9 260.1h3M136.2 282.2h2M46.4 292.8h1.5M96.6 296.2h2M181.8 300.4h2M210.8 281.6h2M145.5 281.3h2.5M64 301.4h1.5M203 277.1h1.5M216.1 297.4h4M155.2 261.6h3M43.6 261h1.5M170.3 270.4h2.5M195 293.3h3M101.4 261.3h2.5M40.9 291.8h2.5M156.8 265.8h4M53.4 248.4h2M158 266.2h1.5M222.3 293h2.5M218.5 274.6h3M130.2 262.5h4M34.5 266.5h1.5M41.6 289.8h4M32.9 295.7h1.5M167.2 254.4h1.5M54.3 267.3h2M136.8 302.1h3M73.5 283.2h4M221.3 263.5h4M169.6 305.1h2M77.2 251.3h3M137.5 253.2h2M127 299.7h3M86.1 253h1.5M49 302.6h2.5M168.8 266.4h2M45.5 270.4h1.5M54.3 284.3h3M55.1 292.7h4M157.7 257.5h4M218.7 294.8h1.5M46.2 297.7h3M205.9 303.5h2M211.2 278.1h2.5M111.8 288.9h2.5M49.3 303.3h1.5M100.7 267.4h2M162.4 265.6h2M126.6 274.7h4M73.1 268.1h1.5M35.8 263.4h4M185.2 253.9h1.5M148.4 273h2M130.4 295.5h1.5M178.8 291.5h3M34.8 272.1h4M92.6 303.6h2M217.6 253.3h1.5M165.9 251.9h3M143.8 273.4h3M99.9 278.9h2.5M138.2 293.1h2M127.4 292.9h3M59.8 299.1h4M110.4 290.2h1.5M204.6 301.9h2M61.1 285.6h3M60.2 294.5h2.5M133.2 304.8h4M65.2 304.5h2M113.4 296.8h3M156.4 281.4h2M33.4 279.3h4M186.4 298.8h1.5M139.9 259.1h1.5M200.9 250.1h2M206.9 304.2h1.5M156.6 265.4h2.5M45.9 248.7h1.5M183.6 288.9h2M103.8 262.3h2.5M55.7 285.6h3M189.7 268.2h4M172.6 283.4h2.5M109.5 289.9h4M74.6 288h2.5M209.8 263.9h3M182 298.2h2M84.5 301.5h1.5M64.5 271.1h4M99.5 267.7h2.5M60.6 281.3h4M73.4 248.6h1.5M176 273.4h4M218.6 274.6h2M197.7 287.9h4M217.1 294.5h4M99.8 287.3h3M45.4 287h4M113 267.7h3M149.4 282.7h3M160.7 271h4M195.6 253.3h4M39.2 273.6h3M200.6 286.1h3M151.8 277.4h4M136.3 292.6h1.5M67.8 303.6h3M90 283.2h4M205.7 254.2h2M51.7 297.4h4M108.2 295.9h3M152.7 300.5h2M84.8 268.4h1.5M117.7 285.3h1.5M120.3 263.7h2.5M74.2 263h1.5M139.4 301.3h4M154.3 305.9h3M186.6 288.4h4M125.1 251.1h2.5M44.2 267.4h3M191.6 296.2h1.5M89.9 271.8h4M53.8 291.7h4M68.6 272.4h3M154.2 272.4h3M129.2 299.5h2.5M44.6 279.2h2M152.5 286.8h3M77.9 286.3h4M89.8 299h1.5M160.8 286.4h2.5M128.1 297.8h3M42.2 300.5h2M106.6 254.2h3M143.9 275.5h4M104.9 283.1h2M129.8 264.5h1.5M37.7 250.1h3M152.1 275.5h1.5M204.9 295.2h2.5M77.7 303.8h4M181.4 281.6h1.5M219.6 284.8h3M74.3 301.3h4M67.4 294.4h3M82.5 302.9h2.5M203 295.3h1.5M138.4 303h2.5M41.6 262.6h3M208.9 264.4h2M222.5 291.5h3M174.1 276.7h4M199.2 271.2h2M99.6 297h2.5M48.7 285.3h4M159 269h1.5M46.8 261.9h4M105.8 291.9h2.5M203.1 258.2h1.5M56.2 262.6h1.5M147.1 280.2h2.5M185.3 303.4h3M181.2 304.3h4M190.7 271.4h3M143.6 262.4h2M219.2 304.3h2M122.1 296.1h1.5M222.3 260.6h2M176.3 285.4h2.5M165.4 281.4h2M58.9 281.6h2.5M62.2 298.9h2.5M204.5 296.2h1.5M121.8 291.8h3M98.2 269.9h2M164.1 292.2h1.5M107.8 287.8h2.5M47.5 275.3h4M83.5 274.4h2M83.4 283.7h1.5M178.4 255.3h1.5M65.8 262.5h2.5M69.5 267.3h4M173.4 254h1.5M161.5 299.8h1.5M62.3 301.4h3M65.5 298.7h1.5M77.1 305.2h2.5M182.1 285.4h2.5M85.4 281.9h4M145.5 265h2M181.2 279.6h2.5M35.3 284.4h3M149.1 268.1h4M63.1 293.4h2M188.8 256.4h1.5M158.3 278.3h4M61.3 266.5h2M221.9 260.9h2.5M47.8 293.7h1.5M76.3 252.7h4M80.7 254.1h3M52 269.5h2.5M101.4 278.2h2.5M48.9 284.9h4M174.7 286.8h2.5M103.2 298.2h2M213.8 285.6h3M169.6 254.6h1.5M213 299.7h2.5M122.8 290.1h2M101.7 291h2.5M144 291.2h3M73 289.5h2.5M90.9 253.1h3M140.9 279h2.5M91.9 280.6h2.5M109.5 252h4M32.7 299.5h3M156.1 289.6h1.5M203.8 278.4h2M197.9 252.3h2.5M165.9 303.2h1.5M156.7 259h4M182.7 264.7h4M138.8 266.1h2M68.2 273.3h3M62.8 288.1h2M128.7 262.5h2M62.2 303.7h4M83.4 273.5h2.5M76.1 256.7h1.5M201 293.4h1.5M80 290.5h2M43.1 290.2h1.5M101.6 300.5h4M57.4 297.5h2M168.9 300.2h3M189.4 299.8h2.5M188.1 303.1h2M108 286.8h3M96.3 271.1h2.5M125.5 260.5h2.5M37.3 259.2h3M202.5 299.2h2M140 291.5h3M90.5 272.4h1.5M193.3 291.4h1.5M74.3 301h2M53.8 268.7h2.5M100.3 265.7h4M32.2 284.5h3M116.1 251.5h3M147.3 294.4h3M104.8 299.5h4M111.9 276.4h2.5M217.4 283.4h4M162.5 289h3M123.8 275.8h4M204.8 249.9h1.5M75.3 255.8h2.5M167.5 261.6h2M110.8 297.8h3M149.6 274.9h2M91.1 257.9h2M34.2 273.3h1.5M86.8 278.8h2M206.4 276.4h3M194 278.6h3M62.3 253.8h2.5M201.4 274.3h2.5M36 275.3h2.5M206.8 290.5h2.5M89.7 254.9h2M45.8 264.3h3M139.7 296.2h2M202.6 261.6h2.5M150.2 286.3h1.5M139.5 286.4h3M165 270.2h3M170.9 287.5h2M92.7 296.2h4M138.9 292.8h2.5M56.1 304.4h4M98.9 261.6h4M136.9 277.1h4M92.9 258.9h2.5M142.5 300.6h2M165 277.3h3M178.2 298.5h1.5M169.4 272.5h1.5M152.7 290.6h2M158 250.3h1.5M150.5 301.8h1.5M129.1 272.8h4M111.3 251h3M190.3 296.9h4M129.4 258.5h2.5M181.4 285.3h3M218.4 305.7h2.5M187.4 303.2h4M112.4 293.4h4M64.6 282.5h1.5M96.6 261.8h2M86.2 260.8h2M127.7 253.2h2.5M164.1 301.7h3M68.4 260.9h2M174.1 267.9h2.5M92.4 256h1.5M117.5 274.9h1.5M142.8 250.3h1.5M92.1 305.7h2.5M206 289h3M58.9 251.4h2.5M198.7 280.5h2.5M110.2 265.8h3M119.6 289.2h2.5M124.1 277.2h1.5M120.1 286.4h1.5M48.2 255.8h4M185.5 302.9h2M81.4 272.2h3M108.3 265.9h4M163.8 289.2h2.5M177.8 276.7h4M186.4 274.2h4M115.7 296.2h1.5M152.2 255h4M184.9 254.8h2.5M203.4 266.2h1.5M90.1 264.9h2.5M160.9 269.2h1.5M67.6 263.6h1.5M41.7 300.9h2M166.8 298.2h1.5M55.2 303.6h2.5M79.2 289h2.5M160.6 298.7h4M152.4 287.3h2M163.7 277.8h1.5M140.9 248.9h3M44.7 253.2h3M196.7 289.2h3M40.1 270.2h2.5M100.7 265.5h1.5M75.7 269.1h2M138.5 280.5h3M38.4 265.2h1.5M192.4 304.8h1.5M124.3 248.5h2M196.7 302.9h4M33.8 259.5h1.5M36.2 274.5h4M222.9 274.4h4M203.5 293.2h2M161.6 291.1h3M56 265.6h2M133.4 299.7h4M155.9 254h1.5M199.1 292.8h4M192.6 274.3h2.5M156.1 301h3M184.8 281.1h1.5M87.4 291.5h2M186.3 285.5h1.5M218.9 288.9h4M54.3 274.3h3M86.2 280h4M215 284.9h4M146.3 291h4M127.2 286.1h3M40.6 277.6h3M201.9 303.6h1.5M163.2 291.1h1.5M123.4 278.9h1.5M176.8 273.1h4M130.7 258.2h2.5M205.4 258.6h4M170.4 262.4h2M50.5 297.9h2.5M32 263.5h4M58.6 273.5h1.5M63 265.8h2.5M63 289.9h2.5M104.1 299.1h2M211.8 258.6h2.5M88.4 268.1h4M133.8 281.9h4M121.5 273.5h2.5M98.3 270.9h2M93.7 294.6h3M186.4 253.5h1.5M132.4 269.5h2M159.7 297.3h3M221 269.6h1.5M53.4 271.2h1.5M212.2 297.4h2M49.6 280.2h1.5M104.5 297.8h2M44.2 277.3h2.5M38.8 298.8h2M205.6 276.5h4M77.9 303.8h2.5M131.2 265.7h1.5M108.3 293.6h3M140.5 304.8h2.5M113 283.8h3M71 302.9h4M50.3 285.5h4M172.1 257.7h2.5M63.7 298.7h2M187.7 266.4h2M105.6 264.4h4M133.7 258.2h2M45.3 254.3h2.5M193.2 283.2h1.5M116.3 273h1.5M151.3 278.7h4M93.9 293.2h1.5M76.2 272.5h3M110.7 288.3h3M127.5 251.8h4M207 250.4h1.5M94 276.4h3M74 282.2h3M201.6 261h2M73.1 288.4h2M66.7 281.4h2M50.3 281.7h4M164 304.9h3M85.7 296.1h2.5M122.9 301.8h1.5M109.9 270.8h3M130.3 300.6h4M175.2 269.3h1.5M153.5 274.1h2.5M45.2 282.7h3M187.6 281h3M64.5 269.7h4M114 291.5h3M199.9 249.5h4M109.9 265.1h3M170.6 249.5h2.5M136 298.2h1.5M121.4 301.1h2M167.3 272.7h2.5M58.2 278.1h1.5M45.5 305.5h3M208.4 265.6h2M137 295.6h2M136.3 273.6h2M116.5 294h2M218.6 293.9h2.5M131.9 302.3h2.5M105.9 284.8h2M184.3 297.5h2.5M144.2 249.6h1.5M191.5 266.4h4M219 269.9h1.5M199.3 299.7h1.5M123.5 301.8h1.5M181.9 266.8h2.5M221.1 303.9h3M86.2 281.4h2.5M69.5 299h4M99.4 277.3h3M143.6 255.5h2.5M216.8 270.1h3M104.8 293.9h4M206.3 256.7h4M214.7 292.9h2M147.4 253.1h2.5M167 261.7h4M142.9 296.4h2.5M123.4 279.1h4M126.3 250.4h2.5M98.7 301.8h3M165.7 262.3h2M181.3 296.2h4M137.9 258.4h2.5M140.4 279.8h3M159 272.6h3M199.3 300.8h2.5M159.1 256.6h1.5M137.7 264.3h3M68.3 261.9h2.5M173.2 252.9h1.5M179.1 255.4h4M136.2 280.7h3M83.9 286.4h1.5M80.8 262h2M53.2 253.9h1.5M128.5 303.9h4M162.1 260.3h4M32.4 289.4h4M79.9 254.4h4M116.7 251.3h2.5M92.7 274.7h2M82.6 258.4h1.5M65 254.5h2M148.9 304.7h2.5M218.5 283h4M184.7 261h3M65.3 295.9h1.5M101.3 304.1h1.5M220.2 305.4h4M66.4 264.3h2M84 258.1h3M150 298.6h2M41.3 272h4M144.7 267.6h2.5M119 270.7h1.5M84.8 290h2M94.7 265.9h1.5M195.5 267.6h2M45.9 275.2h2.5M33.8 255.1h1.5M147.2 257.2h1.5M216.8 255.7h4M127.8 271.7h4M136.5 273.9h2M72.7 296.3h1.5M207.2 301.8h1.5M42.9 249.5h4M36 274.3h4M205.2 251h1.5M91.5 286.2h4M203.6 292.2h2.5M115.1 276h4M136.2 272.4h4M187.7 302.8h4M169.5 269h4M37.1 298.9h2.5M148.8 305.3h2.5M190.6 283h2.5M65.1 266.9h4M57.7 278h4M159.6 291.9h1.5M199.6 267h2.5M33.2 286.5h4M50.7 248.3h4M181.1 299.1h1.5M192.2 290h2.5M100.3 280.4h2.5M73 265.6h2.5M205.3 292.5h2.5M112.8 283.6h2M131.7 253.1h1.5M159.2 289.9h2.5M175.1 288.7h2.5M132.7 300h1.5M90.3 291.4h1.5M94 272.1h2.5M112.2 267.1h4M60.6 262.9h1.5M141.9 249.6h1.5M190.3 274.4h3M136 255h4M55.5 294.5h2M222 287.6h3M166.4 254.8h2.5M91.3 249.4h4M34.2 295.3h2M141.5 258.9h2M147.4 277.8h4M192.4 291.6h2M201.2 280h3M61.3 280.2h2M193.2 259h3M157.8 297.9h4M116.4 256.2h2M155.4 252.8h3M109.4 259.4h1.5M183.4 271.6h1.5M204.1 269h2M73 287.9h1.5M60 266.7h4M218.2 256.1h2.5M135.8 295.5h2.5M124.7 261h1.5M54.1 284.7h1.5M209.7 291.2h4M104.3 305.2h2.5M219.6 262.4h1.5M206.8 297.2h2M169.6 287.7h1.5M180.7 269.9h3M133.9 272.2h2.5M45.7 248.4h1.5M58.6 258.8h2M205 262.2h2.5M210.4 277.4h3M195 262.8h3M201.3 303.4h2.5M150.1 274.5h1.5M150.9 268.7h3M102 265.6h4M119.4 299.6h4M125.1 305.7h3M97.1 272h1.5M78 262h2M44.5 285h2.5M108.9 253.4h4M156.9 283.5h3M127.3 292.1h1.5M100.1 257.9h4M102.7 249.1h2.5M80.2 255.4h3M208.7 267.3h4M136.7 253.1h2.5M57 298.6h1.5M66.3 262.3h3M194.5 254.7h2.5M171.4 279.4h3M148.6 291.2h3M142.9 299.7h1.5M191.3 277.4h1.5M101.9 300.7h1.5M71.1 279.1h4M221.9 278.3h2M110.4 270.7h2.5M148.4 258.7h2M126.5 283.8h3M177.8 291.1h4M148.3 293.6h3M221.8 267.6h3M182.5 299.9h2.5M222.6 266h3M61.3 277.8h1.5M63.5 281.2h4M43.8 258.2h2.5M76.5 288.4h2.5M161.6 273.6h4M67.6 268.5h2.5M183.1 289.9h3M144.2 301.7h2M205.2 299.9h3M165 291.9h1.5M212.6 267.7h2.5M197.9 256.8h4M150.2 262.6h3M157.7 251.9h1.5M215.8 275.2h2M122.9 260.2h1.5M174.9 297.9h3M33.5 293.1h2M146.1 253.5h1.5M135 262h2.5M134.4 296.5h3M139.9 299h1.5M118.8 259.3h3M110 266.5h2.5M108.4 266.4h3M195 250.6h2M54.6 251.7h1.5M34.4 276.8h2M151.7 261.3h1.5M156.6 297.3h2M187.8 296.5h3M179.8 259.5h2M64.6 263.9h2.5M47.5 270.6h4M164.7 299.5h4M114.7 257.5h4M138.9 250.2h1.5M123.8 275.9h2M33.5 284.5h1.5M179.4 281.6h1.5M153.1 255.7h4M179.3 283.3h1.5M137.4 253.1h2.5M187.5 294.1h3M140 285.1h3M42 298.3h3M99.3 253.8h4M157.9 302.1h2M83.2 257.6h2.5M53.1 266.9h2M119.6 288.2h2M75.5 262.8h2M186.3 283.2h3M202.7 287h2M84.6 258.8h4M99.8 296.7h2.5M164.2 268.9h2M83.1 282.2h4M183.4 272.3h3M151.3 253.6h1.5M197.6 294.7h1.5M138.8 250.8h4M109.8 293.9h2.5M127.3 257.1h2.5M96.8 305.6h3M163.9 286.9h1.5M60.1 277.2h3M75.6 277.4h3M110.9 259.3h2.5M66.6 291.9h4M151.7 305.7h2M64 249.6h2M58.4 301.9h2M210.1 258.8h2.5M94.6 295.7h2M43.4 304.3h3M155 302.4h4M95.7 259.7h2.5M157.1 298.4h1.5M140.8 303.2h3M46.3 294.6h1.5M94.5 263.9h4M117.9 254.9h1.5M41.9 289.3h4M138 273h3M125.8 291.1h2M105.1 288h2.5M87.3 292.3h2M83.8 287.8h2.5M83.9 251.9h4M119.9 258h4M165.3 287h3M45.5 298.1h2.5M211.4 285.4h3M174.1 269.7h2M51.9 303.1h2.5M168.5 291.9h3M104 284.1h2M125.8 303.1h1.5M190.1 251.5h4M219.8 304.1h3M39.2 288.9h2.5M40.5 283.6h3M216.5 300.1h4M166.6 285.2h2.5M53.4 298.3h3M91.7 262.2h1.5M163.8 256.6h4M89.5 303.3h2.5M170.3 301.3h1.5M202.2 275.3h2M40.2 255.1h1.5M39.1 257.2h2M160.4 267.2h2M151 292.4h2M198.1 305.8h2.5M40.4 255h3M40.1 270.5h2.5M72 267.1h2M201.9 264.4h2M42.8 278.3h3M194.8 277.9h4M177.1 305.5h1.5M82.7 285.1h4M185.8 254.9h2.5M71.8 292h2M195.6 296.9h3M65.8 258.1h1.5M211.3 273h4M60.2 254h2M118.1 266.3h2M38 252.4h2M176.1 252.7h1.5M57.3 248.3h4M210.4 305h2.5M97.1 258.6h2M196.1 267.1h1.5M135.9 266.7h1.5M211.4 270.6h2.5M176.3 303.6h1.5M208.2 280.8h2M84.2 296.7h3M108.9 277.5h4M60.6 285.9h4M69.8 281.2h2M148.7 263.5h2.5M184.6 267.4h2.5M152 264.9h3M186.7 269.5h2.5M173.8 274h1.5M72.5 265.8h3M82.9 255.4h4M104.8 259.5h2M153.4 302h4M155.3 299.6h3M95.2 264.1h2.5M128.6 294.8h2.5M126.4 250.6h4M130.2 252.7h2M182 253.8h4M83.2 300.4h2.5M48.9 293.8h3M152 289.1h2M128.4 252.2h1.5M179.9 257.1h2.5M123.1 278.9h3M217 257.7h2.5M64.4 251.5h3M220.1 279h3M47.4 295.2h3M135.7 261.8h4M108.4 261.8h4M141.9 277.9h3M38.3 290.7h2.5M170.3 288.7h2M53.6 299.5h2.5M203.3 296.6h1.5M219.9 260.2h2.5M223 250.9h4M128.5 297.9h4M78.7 303.4h1.5M158.4 294h1.5M160.6 293.2h1.5M160.3 253.2h1.5M73.5 282.8h4M66 291.9h4M206.6 301.2h2.5M161.4 290.1h4M142.2 261.9h3M121 273.1h2.5M118.3 281.1h2M146.5 249.9h1.5M81.1 251.3h2.5M115.6 250.6h3M212.4 259.6h2M167 263h2.5M152 251.8h3M193.2 273.5h3M75.7 293.5h2M100.5 292.3h1.5M120.2 263.3h1.5M87.9 300.6h4M130.5 271.7h3M76 253.4h4M54.2 248.4h4M36.2 257.7h4M32.3 272h2.5M150.1 253h3M99.3 271h3M139.8 260h2M49.6 286.7h1.5M202.5 279.3h3M96.5 251.3h2M203.5 254.9h3M169.1 296.6h3M102.4 266.6h2M84.2 263.2h2M45.5 275.3h2.5M110.8 264h2.5M219.5 272.2h2M164.4 286.3h1.5M187.2 253.8h2.5M177 255.4h2M109 305.1h4M211.7 280.7h1.5M80.2 292.1h2.5M114.7 254h4M218.5 252.2h4M60.3 276.4h2M199.4 281.5h2.5M217.3 251.6h1.5M117.8 252.6h1.5M102.8 288.5h3M143.4 287.9h4M100.2 305.5h1.5M133.1 287.9h2.5M68.6 248.9h1.5M209.8 287.9h4M180.6 266.9h4M39.6 293.7h1.5M83.1 275.3h2.5M200.4 289.5h4M160.7 255.7h1.5M209.2 293.7h2.5M165.1 281.1h2M161.5 289.4h3M112.1 302.3h2.5M168 288.5h2.5M153 258.7h4M125 276.9h2.5M119.8 296.7h2.5M191.7 267.6h2M215.5 286.6h1.5M157.9 272.6h2M193 290h4M115.3 275.2h1.5M62.2 302.7h4M199.5 289.4h2M54.5 303.3h1.5M73.3 282h4M45.2 267.8h4M91.3 284.4h4M189.6 295.5h1.5M181.3 248.5h2M218.6 267.9h4M146.5 301.9h2M119.4 255.7h4M69 259.8h1.5M113.9 267.8h2.5M137.9 276.1h2M100.6 250.8h2.5M174.8 304.5h3M169.1 263.8h2M133.6 251.3h2M80 291.5h2M152.6 295.2h1.5M188.3 260.5h2M110.6 278.6h3M110.3 296h3M179.9 248.2h4M102.4 284.6h4M200.3 266.2h4M43.5 276.7h3M147 291.4h2M165.6 269.1h3M201.8 295.1h2M180.2 255.8h2M75.5 282.3h2.5M136.5 274.6h1.5M188.5 267.4h3M101.3 280.4h3M39 280.4h3M89 294.6h2.5M51.7 305.4h3M174.7 275.4h4M185.6 264.2h2M103.6 280.8h1.5M131.8 262.8h1.5M78.5 260h2.5M215.5 250.5h1.5M179.5 286.4h2.5M192.5 268.8h3M153.2 260.3h2.5M197.2 293.5h4M159 289.2h4M63.7 264.3h1.5M35.8 300h2M58.1 271.9h3M201.5 261.4h2M49.3 258.6h1.5M84.2 280.7h3M155.2 265.9h4M188.6 301.9h4M100 252.1h1.5M67.9 296.4h3M156.4 282.5h2.5M131.3 273.6h2.5M111.2 255.9h2.5M125.6 304.6h3M113.3 259.4h2M59.2 256.6h3M202 288.9h3M37.6 259.8h1.5M126.4 266.6h2M45.5 279.3h1.5M68.5 265.8h2M135.8 260.4h1.5M95.6 260.6h2.5M85.1 285.4h4M186.9 262.3h2M135.4 286.2h2.5M145.3 287.4h3M110.1 262.9h3M84.8 268.7h3M89.9 301.7h4M178.7 260.3h4M78.9 305.5h2M58.1 252.6h2M145.8 278.2h1.5M92.4 255.4h4M56.6 300h2M102.7 279.3h2M124.6 263.5h2M148.9 287h2M116.1 262.5h3M55 279h2M197.1 249.6h3M179.7 287.5h3M78.9 293.2h1.5M95.6 275.7h3M145.1 256h4M169.2 305.7h2.5M134.5 269.3h2M72.9 275.8h1.5M164.2 252.4h2.5M135.1 296.2h2.5M64.7 267.8h4M194.1 261.8h1.5M59.1 254.1h2.5M151.2 252.1h4M91.6 253.6h3M129.7 295h1.5M66.1 301.5h2.5M34.8 256.5h4M173.8 265.9h4M117.4 277.8h2M206.8 300.9h3M43.2 275.9h4M204 256.8h3M211.6 295.9h1.5M50.6 289.1h2.5M193.5 250.9h2.5M210.3 274.4h2.5M182.5 253.7h4M219.9 268.3h3M57.7 275.2h2M83.2 288.6h2M215.2 300.7h1.5M177.6 264h1.5M125.5 280.8h2M58.5 277.6h1.5M35 301.7h2.5M143.9 257.7h4M116.9 269.5h3M78.8 271.9h2.5M37.3 269.4h2M108.5 253.6h2M213.5 276.5h2M46.6 275.3h4M74.9 248.2h2M133.8 287.2h2M178.2 258.6h2.5M43.4 276.9h1.5M197.1 277.1h3M176.2 283.7h1.5M183.9 271.2h2M50.3 303.2h2M101.9 263.6h4M108 252.7h2.5M46.5 252.2h1.5M218.2 264.4h4M148.6 254.2h2M186.7 263.6h4M104.1 263.8h2.5M187.7 257.3h2.5M147.8 256h3M58 299.8h2.5M209.7 254.1h1.5M76.5 257.7h4M112 271h2M58.8 257h2.5M93.4 291.6h3M58.5 268.9h4M150.6 300.9h3M110 283.5h1.5M162.2 256.5h3M216.8 251.3h3M183.7 301.8h1.5M52.4 277.6h2M135.1 259.4h2.5M156.9 286.6h2.5M157.8 259.3h1.5M172.7 248.8h2M98.8 295.1h3M88.9 249h4M191.1 292.3h1.5M58.7 289.6h2M109.1 288.6h2.5M37.9 274.9h2M219.3 266.7h4M151.3 258.7h3M194.4 300.5h2.5M44.7 263.1h2.5M211.6 270.7h3M95.2 301.2h3M122.2 277.4h2M167.8 298.9h1.5M199 275.1h2.5M99.5 272.9h3M127.8 289.6h1.5M200.1 252.8h4M74.4 280.4h2M39.6 304.5h2M33.9 262.1h2M142.7 273.1h2M94.5 298h2.5M78.7 253.2h4M89.4 248.3h4M211.2 251.9h3M161.7 258.4h2.5M119.4 264.7h3M150.6 303.1h2.5M197.4 250.4h1.5M217.7 265.3h1.5M96.1 264.5h1.5M54.7 259.1h1.5M196.6 290.3h3M62.7 287.2h4M63.6 257.4h3M69.1 254.9h3M40.3 258.7h3M153.9 270.6h2M103.8 263.7h2M208.7 276.1h2.5M89.9 250.1h2M58.7 287.6h1.5M143.9 281.1h3M188.5 281.6h3M127.5 265.5h2M185.5 292.8h3M198.4 297.8h1.5M165 250.3h1.5M165.4 303h2M62.6 262.5h4M77.4 256.5h3M203.7 304.3h2M57.8 279.9h1.5M124.6 264h3M174.4 279.2h2M149.9 264.8h2M43.1 277.9h2M49.1 298.9h3M193.8 250.2h2M69 261.7h2.5M69.2 297.3h3M117.3 253.9h2M87.3 253h4M168.1 278h1.5M125.1 272h2M214.9 281.5h2.5M186.4 290.1h2M147 300.2h4M118.3 263.5h3M80.5 264h1.5M220.6 262.7h3M56.7 301.9h2.5M213.5 279.1h2M65.5 278.3h2M150 250.8h3M88 280.5h3M197 300.2h4M210.6 296.1h1.5M53.9 255.9h2M90.4 291.2h1.5M106.7 267.3h2.5M76.2 300.3h3M58.1 304.1h4M42.2 261.2h1.5M199.5 296.7h2.5M186.2 274.4h3M179.9 282h1.5M80 289.7h2.5M166.1 261.3h4M123.7 271.7h3M134.6 295.8h3M71.3 273.7h1.5M147.1 270.8h2M88.4 296.2h3M206.1 289.4h3M143.9 266.7h2M94.5 273.4h1.5M189.2 300.7h4M67.2 277.1h1.5M221.2 300.2h2.5M121.8 264.7h2.5M109 302.3h2M192.5 298.2h3M218.2 283.6h4M33.3 301.9h1.5M45.4 253.6h1.5M119.2 283.8h2.5M130.1 254.5h3M156.4 271.7h4M82.8 299.8h4M148.8 296.6h2M56.8 266.9h2.5M222.4 261.3h4M66.4 272.9h4M107.7 286.3h1.5M104.1 269.6h3M198.7 250.8h2M134.9 271h1.5M208.4 262.4h3M182.8 267.1h1.5M97 300h4M135.8 281.4h4M36.4 258h2M76.1 276.4h2.5M89.1 266.7h4M81.3 260h2.5M50.7 270.6h2.5M171.7 273.8h1.5M211.9 296.4h1.5M219.6 286.7h3M219.4 250.8h2M148.7 275.2h4M69 288.1h2M206.5 301.6h2M115.3 296.4h2M176.6 305.5h2.5M126.3 271h3M69 257.5h4M135.7 280.9h1.5M194 294.1h2M143.9 272h2M97.2 290h2M165.6 249.7h1.5M91.5 252.1h4M145.6 283.7h4M209.6 256.2h4M175.7 287.6h4M211.4 262.6h4M100.9 279.6h4M153.1 259.2h4M99.6 275h3M183.8 305.7h1.5M120 251.2h2.5M106.6 255h2M44.6 280h2M117.3 290.8h3M211.2 278.8h4M62.6 277.2h2.5M37.5 302.8h3M102.2 280.3h2M122.6 301.9h3M205.8 253.4h2M102.2 275.5h3M185.1 296.3h2M168.6 290.3h1.5M214.2 259.3h3M144.9 298h2M211.3 301h4M106.3 266.8h2.5M136.7 281.8h3M218.4 275.7h4M140.9 260.2h1.5M38.5 287h2M138.7 268.2h1.5M142.9 253.6h4M141.3 282.4h2M160.5 271.9h4M125.8 291.8h1.5M79.8 255.1h1.5M54.2 279.5h3M125.8 298.9h4M167.9 283.6h3M102 263.1h1.5M217.7 259.3h1.5M144 248.7h4M216.3 257h3M203.8 295h1.5M211 266.2h3M69.6 297.2h3M207 251.6h3M138.8 299.6h3M65 254.1h4M62 278.8h3M142.5 282.4h3M189.9 251.7h1.5M75.3 293.6h2.5M112.9 303h1.5M63.5 295.4h2.5M154.1 288.5h1.5M208.2 301.4h3M50.1 254.5h2M222.9 276.3h2.5M84.4 255.1h1.5M64 302.2h1.5M159.7 270.1h3M102.2 275h4M183.6 270.1h2M183.9 301.9h2M43.8 281.5h2M59.7 292h3M84.5 283.6h2M70.5 289h2.5M220.3 272.5h1.5M185.6 269.8h2.5M121.1 281.8h1.5M32.5 251.3h2M188.7 257.9h1.5M108.1 289.8h2.5M201.2 305.1h4M36.9 296.5h4M191.2 288.7h3M99.3 249h4M57.4 279.8h3M118.7 256.1h2.5M65.3 293.1h3M150.2 298.4h4M221.3 291.1h3M55.1 286.4h2.5M164.4 292.2h1.5M64.7 249h2.5M91.3 273h2M198.6 269h2M70.3 279.6h3M123.7 304.4h2M117.1 253h1.5M201.8 254.2h1.5M163.1 286.2h4M142.8 296h3M189.7 292.8h4M83.2 258.2h2M93.7 254.9h2M67.4 285.4h3M58.6 256.9h4M169.8 260.2h2.5M105 285.3h2.5M58.6 261.3h3M197.1 270.2h2.5M89.1 272.5h2M101.3 281.3h2.5M53.7 265.5h3M90.3 271.3h4M86.4 250.5h1.5M49.6 300.7h3M123.4 298.8h1.5M89.2 296.8h2.5M90.9 297.8h3M218.5 292.5h1.5M78.6 248.9h3M220.2 300.9h4M162.1 274.8h2M155.8 284.6h2M123.3 260.9h2M91.3 269.5h1.5M214.4 273.6h3M202.4 251.4h2M146.5 278.9h2M42.9 252.8h1.5M134.5 274h2M69.2 261.1h4M47 277.7h1.5M191.4 302.3h2M128.2 276.5h4M188.6 271.6h2M136.5 273.5h2.5M141.7 283.9h1.5M122.6 288.9h1.5M175.2 304.2h2M47.2 267.5h2M211.3 298.5h4M127.4 272.6h2M57.3 254.4h2M70.7 255h1.5M59.5 272.6h2.5M139.6 267.4h4M111.5 305h3M154.9 253.2h4M179.5 268.8h2.5M144.3 293.8h1.5M104.3 289.2h1.5M139.3 274.7h4M70.1 301h3M102.2 291.9h2.5M92 283.5h4M145 279.9h4M189.2 278.4h2.5M53.2 272.6h2.5M123.8 294.5h4M80.6 280.2h4M128.8 269.5h4M154.1 263.3h4M38.7 292.5h4M158.7 304.1h2.5M45.9 268.8h3M88.1 267.8h2.5M105.2 268.1h1.5M83.5 283.2h3M205.6 275.7h2M95.2 287.9h3M99.6 275.7h1.5M73 263.7h2M220.9 301.3h3M180.7 299.8h3M148.7 251.4h2M111.8 302.2h2M49.3 284.7h4M65.4 262.8h3M178.5 289.5h3M204.9 290.3h1.5M194.8 291.4h4M145 268.8h1.5M48.3 272.8h2.5M48.2 288.6h1.5M38.7 288.1h2.5M202.2 302.5h4M208.3 276.4h2M203.8 248.4h1.5M61.9 290.5h1.5M153.3 286.6h2.5M214.7 302.9h1.5M104.2 253.5h2M128.6 273.4h1.5M178.6 300h3M55.8 288.7h2M138.6 297.9h4M158.9 262.8h2M45.9 281.1h1.5M218.8 258.1h3M158.5 281.7h3M78.8 271.8h4M48.2 290.4h2M196 299.5h3M218 285.2h3M150 300.3h2.5M108.7 298.1h4M211.3 264.8h2M42.1 275.5h4M152 299.9h2M214.9 289.9h1.5M125.2 254.5h4M150.2 253.9h1.5M64.3 260.1h1.5M178.1 264.5h1.5M128.7 276.6h3M130.2 280.5h1.5M98 257h1.5M112.8 272.4h4M135.2 264.9h2.5M122 296.4h3M165.5 298.4h1.5M96.3 301.7h4M149.4 273.8h2.5M167.4 259.7h4M199.5 284.2h2M124.7 269.1h4M116.4 263.7h3M159.6 298.9h1.5M105.5 267.9h1.5M179.4 258.1h4M144.5 268.4h2.5M84.1 249h3M149 305.2h4M106.9 300.4h3M184.7 269.6h2M183.6 262.9h1.5M124.1 253h1.5M99.9 268h2M119.7 288.6h3M171 300.6h4M167.6 273.5h1.5M52.5 270.4h2M52.9 251h2.5M106.4 294.6h4M193.6 290.7h2.5M161.7 292.2h4M111.5 298.6h4M205.2 294.5h1.5M145.9 296.9h4M171.6 257h4M177.1 260.5h2.5M153.5 266.9h2M188.3 302.6h2.5M51.1 261.7h2.5M98.5 295.6h2.5M184.6 255.5h2M117.5 267.8h2.5M125.7 299.5h2M87.3 289.1h4M147.1 273.3h2.5M217 295.4h4M96.5 257.1h2.5M167.8 293.6h2.5M117.3 291h1.5M121.8 265.6h3M209.4 252.2h1.5M138.9 264.6h2M124.6 262.8h2M98.6 289.9h1.5M157 271.6h3M128.3 290.2h4M98.7 279.5h2M64.3 262h4M53.3 299.3h1.5M213.1 302.8h4M110.2 269.8h3M36.2 296.6h2.5M102.3 285.3h4M41.8 280.1h3M60.8 290.2h2M207.3 280.5h3M205.2 282.4h2.5M81.4 302.3h4M101.8 270.9h3M170.8 263.6h1.5M48.6 257.5h2M210.3 281.7h4M161.6 301.9h1.5M195.2 254.6h2M50.7 284.3h4M45.6 281.5h1.5M49 256.8h1.5M141.7 287h1.5M143.7 292.6h3M166.8 248.3h4M208.4 297.5h2M156.7 296h2.5M134.1 295.3h4M60.1 271.4h2M73.6 277.1h2.5M71 292.4h3M191.3 255.7h3M167 281.2h1.5M178.5 302.1h2.5M84.2 261.5h1.5M160.7 255.1h1.5M40.2 252.6h3M202 260.6h4M198.7 292.9h2.5M148.6 300.1h2.5M62.8 252.4h2.5M132.8 268.8h3M202.5 261.3h1.5M154.3 264.5h4M181.7 285.4h2M166.2 302h2M159.8 266.8h2M179.2 297.7h2M54 283.3h2M155.3 252.6h2M127.5 300.7h2M59.8 295.2h2M84 261.6h2.5M127.8 303h2.5M161.9 264.1h4M218.8 263.8h2M128.7 290.7h1.5M55 286.2h3M216.5 255.8h2.5M116.9 288.9h2.5M118.9 269.8h3M207.2 274.6h4M105.2 249.1h3M87.7 303.6h1.5M123.2 281.3h2M53.2 263.9h2.5M67.8 269.8h2M39.2 262h4M129.1 285.3h2.5M156.4 254.6h4M167.8 287.7h4M213.1 270.6h3M213.1 273.2h3M48.3 288.5h2.5M78.8 279.8h3M110 283.9h1.5M215.5 281.8h3M75.8 260.7h1.5M186.3 300.6h2.5M98.7 273.4h3M105.9 267.3h2.5M71.5 279.5h1.5M37.8 292.4h4M154.8 280.2h1.5M81.6 289.5h2M152.5 276.2h2.5M110.2 282.7h3M130.2 303.9h2M182.3 276.1h1.5M77.5 284.7h3M172.9 262.9h3M159.7 297.8h2M98.8 261.6h2.5M219.8 296.9h3M146.1 253.2h4M193.7 272.8h3M126.1 296h2M138.2 289.9h3M172.8 271.7h2M132.6 272.5h2M217.7 287.4h2.5M97.3 266.3h2.5M168.2 263.1h2.5M112 270.4h2.5M102.6 303.2h2M59.1 301.9h1.5M221.2 300.9h2.5M77.4 262.5h1.5M45.3 270.4h2M183.9 291.3h4M213.4 296h1.5M128.9 266h2.5M113.5 255.3h2.5M134.7 287.2h4M177.8 274.8h1.5M122.4 271.9h4M152.1 296.7h2.5M182 267.2h3M165.1 287.5h4M118.8 271.6h2M207 274.6h2M221.1 254.9h1.5M139.9 262.3h2M96.5 272.8h2M142.2 269.8h2M75.7 253.5h3M193 254.1h2.5M189 267.9h3M192.1 279.1h1.5M206.3 299h2M34.6 303.4h4M192.7 276.3h2M133 250.3h3M219 293.1h2M82.1 311.6h1.5M63.5 308.1h2.5M47.8 308.8h1.5M180.3 307h1.5M155.1 315.8h1.5M183 317.2h1.5M197.4 314.4h2M33.1 310.2h2M102.7 312.6h2.5M147.6 311.3h3M49.3 310.9h1.5M112.8 306.7h2M133.7 309.8h1.5M50 307.1h2M63.8 316h3M85.9 311.1h3M149.6 310.8h2.5M144.1 316h3M84.1 308.9h2.5M153.9 309.7h2.5M104.9 308.8h1.5M204.5 311.7h3M159.1 315h2.5M112.3 311.9h2.5M67.5 309.2h2.5M156.7 307h1.5M40.8 307.1h2.5M158.6 314.2h3M85.1 313.7h2.5M192.2 310h2M90.5 309.4h2M163.9 307.1h1.5M41.3 308.6h3M119.9 316.1h3M210 307h1.5M216.7 312.1h1.5M32.5 311.7h2M105.1 315.4h2M95.6 313.4h1.5M215.5 307.7h3M162.5 311.2h2.5M131.7 309.2h1.5M48.8 308.3h1.5M94.8 307.9h3M187.1 311.1h2M138.2 308h2.5M49.8 310.9h3M152.3 313.8h2M141.4 315.9h2M165.2 314.5h2.5M187.7 316.4h3M175.4 311.7h3M45.2 308.3h1.5M159.2 310.1h2.5M100.1 307.6h2.5M208.9 316.5h3M162.6 307h1.5M44.4 317.9h3M142.5 311.7h2M90.6 313.6h2M125.9 316.6h2.5M128.7 308.6h3M140 313.6h3M86 307.8h1.5M146.4 315.6h2.5M150.5 317.8h1.5M196.3 306.1h2.5M131.2 310.8h2.5M111.3 314h3M101.6 306.6h1.5M126.2 316.4h3M161.9 306.8h2M138.5 312.3h3M118.8 310.4h1.5M110.1 306.3h2.5M147.7 308.2h2.5M84.6 315.7h1.5M62.3 310.4h2.5M154.1 312h3M189.2 309.2h1.5M219.6 311.1h2M98.5 316.8h1.5M78.6 307.6h1.5M121.6 310h3M50.6 310.5h2.5M37.3 315.8h2M67.5 307.3h1.5M156.6 317.6h2M162.1 311.9h2M140.1 313.7h2M150.2 308.6h1.5M130.2 311.7h1.5M200.4 311.5h1.5M81 317.9h1.5M68.9 309.2h1.5M196.4 307.6h3M213.5 313.6h2.5M161.1 308.5h2M172.4 314.5h3M167.3 314.3h1.5M63 317h2.5M221.7 307.9h3M220.1 307.6h2M181.2 308.2h2M72.1 315.9h2.5M203.1 316.4h2M50.8 307.1h3M222.4 310h1.5M92.2 309.9h2.5M46.7 307.8h3M157.6 313.6h2M125.1 317.3h1.5M145.5 310.4h3M113 312.1h3M121.2 307.8h3M37.2 306.5h2M214.3 308.5h2.5M202.5 311.9h1.5M95.2 312.2h2M154 314.7h3M114 312.6h2M94.9 310.6h3M187.1 308.1h2.5M99.1 309.9h2M81 309h1.5M191.4 311.7h2.5M68.4 315.2h1.5M98.3 315.1h2M42.9 315h2.5M52.8 310.1h2.5" stroke="#b8b8b8" stroke-width="1" fill="none"/>
<path d="M220.1 365.8h3M81.8 359.3h2M69.3 390h1.5M220.5 363.8h2.5M148.4 408.6h4M158.1 355h2M100.3 323.8h4M211.5 390.3h3M143.8 404.1h3M174.6 372.6h2M208.7 352.4h1.5M168.9 327.4h2M67.6 326.3h3M164.2 377.9h4M116.8 377.4h3M157.9 333.3h3M61.5 341.1h3M190.3 414.5h2.5M82.1 372.2h2.5M167.9 337.6h3M40.5 335.8h1.5M124.6 402.5h3M39.8 407.9h3M175.3 388.7h1.5M47.4 354.4h3M139.7 412.6h4M67.7 340.5h3M197.7 319.6h2.5M207.5 351.3h3M50.1 361h4M40.8 359.7h4M45.2 383.6h4M144.9 389.6h2.5M52.9 327.5h3M175.7 380.5h4M83.4 354.5h1.5M126.1 346.5h1.5M147.4 356.4h1.5M178.3 360.1h4M100 364.3h2.5M65.7 348.7h3M201.6 376.1h4M119.9 408.5h2M205.3 375.1h2M42.6 372.2h2M90.9 400.3h2.5M218.1 386.9h1.5M111.1 401.7h2M114.3 332.5h3M201.8 361.7h2M57.3 375.2h3M57.8 396.8h3M209.7 408.1h1.5M197.2 399.5h2M66.1 332.3h4M185.9 364.4h2.5M167.9 323.5h2.5M94.3 326.2h1.5M135.1 321.2h4M148.4 346.2h4M201.2 399h2M174.9 349.4h2M159 416.4h3M119.1 365.3h3M199.5 368.1h1.5M125.8 346.8h1.5M60.3 402.9h4M200.7 399.9h2M77.8 380.4h3M56.3 331.2h2.5M95.7 362.1h2M203.5 373.8h1.5M67.1 343.1h4M86.1 338.4h1.5M99.1 384.3h1.5M98.9 342.1h3M142.9 413.4h2.5M208.3 338h2M59.5 398.3h4M77.2 399.7h4M217.6 364.6h4M120 392.6h1.5M141.4 376.4h1.5M195.4 392.3h4M161.2 323.2h2M79.4 332.5h2M126.5 368.4h2.5M102.8 336.8h3M51 395.8h3M110.7 369.4h4M113.1 321.1h2.5M209.6 336.2h3M46.5 362.9h2.5M72.8 384.8h2M214.7 334.8h2M38.4 379.7h3M180.6 348.8h2M75.7 349h4M149.4 399.3h1.5M207 373.5h3M163.4 392h2.5M60.7 320.1h1.5M49.5 337.2h1.5M143.9 415h4M202 382.8h2.5M130.8 348.2h2M206.2 359.8h4M167 408.2h3M179.6 374.9h4M37 397h1.5M115.9 406h1.5M71.2 360.3h2.5M51.1 325.6h3M158.5 396.3h3M44.1 375.3h3M127.8 364.5h2M77.7 343.7h3M113.5 333.8h3M43.2 409.5h3M65.9 342.9h4M214.4 325.4h2.5M115.7 326.1h4M67.9 333.6h1.5M199.3 409h3M95 397.7h2.5M46.7 396h2.5M113.1 357.6h4M120.7 360.3h1.5M213.3 337.7h2.5M203.4 320h1.5M155.2 387.9h2M92.6 321.4h1.5M42.7 393.2h3M51 337.4h3M88.7 328.6h3M200.1 375.6h4M60.8 358.7h1.5M210.2 399.7h2M156.4 334.2h1.5M178.3 333.3h2M91.7 356.6h3M94.3 373.4h2M155.7 374.8h2M68.4 321.7h4M84.8 407h2M193.5 332.8h4M93.5 320.8h4M181.6 415.2h3M142.5 369.7h3M216.6 318.6h1.5M177.1 374.8h3M163.6 415.9h1.5M74 406.2h3M124 413h4M71.8 322.3h3M93.7 415.2h1.5M43.8 389.9h1.5M41.5 326.8h4M188.1 366.2h2.5M108.1 360.5h2.5M124.6 350.6h4M129.6 338.1h3M90 404.2h3M105.6 352.4h2M213.6 363.5h3M142.1 342.1h1.5M33 364.8h4M72.6 381.2h4M156.6 383.1h2.5M186.6 412h2.5M119.8 365.8h1.5M210.7 383.2h2.5M120.1 403.7h3M195 333.7h2.5M179.6 366.7h1.5M175.6 352.4h3M210.4 375.5h3M180.4 393.1h4M218 412.9h2M90.1 402.2h2.5M142.7 406.7h3M33.8 399h1.5M66.1 366.8h2.5M169.5 359.3h1.5M177.6 375.3h2M102 389.1h2.5M166.4 350h3M44.9 361h1.5M186.7 328.3h4M201.4 372.7h2.5M180.5 374.2h4M145.7 372h2.5M177.9 327.6h2M127 337.4h4M163.1 412.1h1.5M93.4 328.6h1.5M63.3 404h4M141.1 346.9h3M93 379.7h3M87 318h2.5M218 375h2M56.7 373.4h4M80.2 318.8h2.5M67.8 388.6h4M130.6 405.9h2M68.4 401.8h2.5M61.1 320h2.5M108.4 339.5h2M170.8 394.7h1.5M82.8 389.1h2.5M50.9 351.5h1.5M133.7 373.1h2.5M216.6 332.2h1.5M117 395.3h2M207.7 382.8h1.5M145.7 380.6h4M53.2 352.7h3M181.5 386.8h2.5M114.1 398.9h4M61.6 341.5h1.5M137.8 410.4h4M122.9 323.6h3M65.5 411.3h4M167.2 409.5h1.5M125.5 341.4h4M64.5 416.1h1.5M42.8 409.1h3M160.5 413.9h4M118.2 403.2h2M181.3 353.3h2.5M68.8 403.9h4M170.3 331.3h2M60.9 335.9h4M155.2 412.3h3M106 387.6h1.5M149 351.7h1.5M75.2 385.4h2M88.7 374.8h2.5M112.5 333.8h2M190.9 321.8h2M118.4 383.9h4M107.4 341.6h4M44.7 346.8h2M49.1 373.9h4M77.5 322.1h2M140.1 393.2h1.5M38.7 392.3h2.5M135.5 340.8h2M71.9 363.2h2M139.8 382.8h2.5M211.8 410.6h2.5M101.3 342.3h4M186.3 319.1h2.5M194.5 380.8h1.5M66.6 347h2M169.4 340.7h4M154.9 334h3M64.5 353.9h1.5M141 348.3h2.5M34.4 360.4h2M94.2 358.2h2M149.7 326.8h2M174.8 356.9h4M82 343.6h2M64.8 368.5h1.5M114 402.7h2M184 343.9h4M133.4 325.6h3M64.5 319.3h4M125.1 386.2h1.5M57.6 359.7h2.5M106.1 323.9h2.5M68.2 384.3h2M147.4 394.7h4M85.7 336.1h2M134.8 387.8h3M179.8 380.9h3M201.6 353.5h4M211.4 377.6h2.5M219.2 332.1h4M112.2 378h3M86 322.7h2.5M102.3 321.4h4M76.8 321.1h4M211.2 367.7h1.5M178.9 365.4h3M205.7 368.9h4M62.3 322.6h2M167.5 319.8h2M108.4 361.5h2M68.4 386.6h1.5M180.6 375.1h1.5M173.4 415h2.5M71.2 344.7h4M200 373.9h1.5M100.3 388.8h2.5M162.3 393.2h2M142.7 363.3h2M96.6 331.3h2M204.5 339h2M193.8 353.9h1.5M90.5 372.3h3M207.5 407.4h1.5M65.8 356.6h2M165 393.6h2.5M47.4 411.4h4M175.6 337.9h2.5M187.8 391.8h2.5M197.3 387.7h2.5M203.9 325.8h2.5M211.1 412.4h4M188 368.2h3M145.9 356.2h4M145.5 379.7h1.5M103.9 396.2h1.5M53.5 327.4h1.5M82.5 327.8h2.5M67 394.5h2.5M208.7 353.1h2M216.4 370.6h1.5M66.9 414.1h4M167.9 386.2h2.5M152.5 345.5h3M136.3 404.9h3M146 407h3M168.3 384.2h1.5M218.1 395.5h2M174.4 332.8h1.5M90.7 324h4M194.7 367.6h2.5M37.4 347h1.5M76 377.9h2.5M151.5 319.1h2.5M148.7 345.5h2M202.7 352h2.5M155 380.8h2.5M168.2 405.6h4M190.8 353.3h2M166.6 405.1h2M110.4 322.3h1.5M82.9 387.7h3M84.5 355.4h2M117.6 341h2.5M122.4 345h3M126.9 347.5h2.5M158.8 361.3h1.5M70.1 403.2h2M213.5 405.1h1.5M176.3 376.7h2M203.9 386.6h2.5M91.8 353.6h2M48.2 402.9h4M206.5 336.4h4M190.9 341.9h2.5M47.5 354.9h2M117.1 360.4h1.5M36.9 372.7h2M176.2 367h2.5M37.2 396.9h2.5M127.7 320h2M50.9 333.1h3M73.9 360.7h2M171.6 412.9h3M117 335.3h4M174.3 392.3h3M137.1 416.7h4M95.2 354h3M167.1 336.3h2.5M121.8 355.7h3M188.7 328.7h2M132.1 396h2M110.4 320.4h3M217.2 344h1.5M205.6 323.7h2M197 395.2h2M83.8 373.1h4M185.1 363h2.5M116.1 414.8h2M50.7 379.9h3M140 329.9h2M220.7 403.7h3M154.8 338.5h1.5M83.9 339.4h1.5M176.9 343.6h2M43 319h4M32.7 349.8h4M208.6 318.4h4M158.3 318.8h2M179.4 374.1h3M203.2 354h4M124.4 323.2h3M149.5 320.5h2.5M172.7 347.6h2.5M181.4 375.3h1.5M111.7 335.6h3M68.1 351h1.5M128.7 380.5h1.5M177.9 342.1h4M118 365.6h2M157.8 362.9h1.5M65.2 355.5h4M127.9 375.6h2.5M119.9 325.8h3M212 386h4M131.1 390.9h2.5M59.6 335.2h3M156.1 391.2h1.5M92.3 374.5h1.5M210.2 389.8h1.5M46.7 332.2h3M166.8 345.6h3M79.1 353.9h4M188.8 364.9h1.5M162.6 406.5h3M161.5 335.2h1.5M89.5 321.7h2M154.1 364.5h1.5M189.7 343h2M109 335.9h2.5M61.1 366.1h1.5M63.5 409.9h2M74.1 378.6h3M181.2 400h2.5M163.8 369.5h3M43.8 397.2h1.5M163.8 400.5h2M66.8 334.8h3M171.5 337.7h3M186.4 318.9h3M99.5 331.4h4M216 349.8h3M120.7 326.3h3M149.4 347.2h4M86.5 325.9h4M199.6 367.9h2M48.6 372.3h3M48.4 342.5h4M65.1 390.4h1.5M109.7 404.6h1.5M147.5 345h2.5M171.3 355.4h1.5M152.3 364.6h2.5M32.5 340.5h4M199.2 333.2h4M40.9 372.5h2M143 403h2.5M180.2 397.5h2M57.5 332.3h2M137.5 382.2h4M175.6 415.4h4M45.5 376.1h2M148.8 374.6h4M134.4 361.7h4M215.3 409.9h2M86.5 410.4h4M193.9 330.6h1.5M174.5 348.1h2.5M220.1 345.1h4M47.4 400.4h2.5M45.2 326.9h4M107.4 370h2.5M97.9 390.9h2M120 339.2h2.5M75.2 373.2h1.5M60.7 386.9h2M49.2 344h2M128.3 372.6h1.5M57.9 381.7h3M204.5 347.7h4M58.8 340.4h1.5M89 342.2h4M108.3 328.7h2.5M35.5 348.9h4M152.8 335.8h2M222.8 371.7h2.5M216.8 351h1.5M97 387h4M131.7 329h4M164 409.3h1.5M93.3 336.4h1.5M153.8 411.2h1.5M93.1 376.9h1.5M127.3 360.7h4M69.4 370.7h4M217.5 324.1h4M148.2 350h2M193.5 360.4h1.5M57.7 404.4h1.5M144.8 412.4h1.5M98.8 346.7h1.5M122.7 374.1h2M36 404.6h4M118.8 358.5h3M142.1 385h4M142.5 392.7h2M67.5 349.9h4M123.4 334.7h3M86.6 412.1h3M64.1 408.1h2M138.4 416.2h2.5M71.1 330.9h2M145.6 356h2M168.5 343.2h4M189.8 350.5h2M132.6 334.8h3M104.7 319.2h3M211.7 319.9h2.5M33.5 374.9h4M52.1 361.4h2M164.6 389.1h2.5M99.9 375.1h2M66.9 380.3h3M197.7 394.9h2M56.7 351.6h4M120.7 377.2h4M40.8 376.9h1.5M68.2 386.2h2M219.5 358h2.5M68 358.7h3M56.8 393.1h4M36.6 372.7h2.5M37.6 346.2h1.5M126.8 400.4h2M123.9 392.6h2M132.3 324.4h2M68.1 411.1h3M149.4 394.2h4M65.9 368.4h2.5M176.2 324h1.5M77.4 377.1h4M212.1 389.4h1.5M167.7 390.1h3M195.1 409.1h1.5M111.6 372.9h2M153.2 351.1h3M107.8 380.4h3M202.2 411.4h4M58.6 400.4h2M102.9 378.1h1.5M95 390.9h3M103.6 324.6h2.5M52.1 357.2h3M58.3 322.4h1.5M84.6 370h4M108.2 345h3M204.2 411.9h1.5M154.3 323.6h2.5M173.5 330.3h1.5M37.5 342.6h4M162.8 350.4h2.5M38.6 327h1.5M35.6 374.7h2M212.8 403h4M34.3 337.2h4M222.9 370.5h1.5M40.1 382.1h1.5M157.6 402.4h4M179 351h4M58.1 321.4h3M127.7 328.7h4M80.8 318.1h2M190 370.5h3M166.7 393.9h2M63 416.1h1.5M110.8 360.5h4M179.9 357.4h2M181.9 323h4M162.9 357.9h3M115 344.2h1.5M53 415.5h2.5M50.3 328.8h3M166.7 337.8h3M114.8 327.6h4M207.8 387.6h4M49.5 377.9h4M109.8 334.2h2.5M207.8 338.8h1.5M92.8 347.5h3M153.7 338.9h4M51.9 351h1.5M159.1 396.6h4M206.3 387.7h2.5M82.4 325.6h4M111.3 343.6h4M97.7 377.3h4M90.8 326.2h3M133.3 353.1h4M75 350.6h1.5M154.7 325.2h3M83.3 370.9h3M180.1 356h2.5M93.8 319.1h3M117.9 321.1h2M61.9 404.2h3M32.2 356.3h1.5M134.5 357.5h1.5M112.2 368.9h2M50.1 405.5h3M194.7 381.8h1.5M35.5 397.6h4M106.4 402h4M56 359h1.5M180.9 407.4h2.5M163.3 326.7h3M88.5 327.6h2.5M96.7 414.8h2.5M152.5 337.3h2M80.3 364.1h4M93.6 394.4h2.5M88.7 403.3h3M83.8 339.5h1.5M175.8 354h2.5M48.1 395.5h1.5M142.2 341.9h2.5M39.1 383.1h2M146.8 410.8h4M70.7 387.3h1.5M125.7 344h2.5M60 376.2h3M190.7 321.2h1.5M33.8 349.4h3M93.4 375.7h2.5M141.6 402.3h2.5M79.8 324.7h3M80.3 381.5h3M51.9 407.6h4M163.9 322.2h4M44.5 376.7h2M152.7 369.2h1.5M53.1 372.3h1.5M222.3 378.6h1.5M61.6 369h4M64.1 320.7h1.5M124 397.7h3M221 415.3h4M159.2 344h1.5M99 384.6h3M76.1 372.2h3M70.5 415.9h2M132.1 351h4M156.8 410.7h1.5M210.6 364.1h1.5M106.9 332.2h1.5M77.4 413.9h2M60.6 385.3h2M112.2 406.4h3M167.7 353.9h4M171.7 396.8h3M66.2 380.8h3M154.9 395.1h2M219.1 402.8h2.5M114.8 382h4M110.2 368.8h2M73 401.1h3M157.9 416.9h3M96.9 347.2h2M169 410.6h2.5M200.6 321.1h1.5M195.3 383.4h2M92.4 350.2h2M106.2 318h4M140.4 400.3h2.5M164.7 348.8h1.5M214.7 371.7h4M222.6 334.4h1.5M136.5 384.8h1.5M34.6 345.2h3M127.5 386.3h4M132.4 376.6h1.5M177 409.1h3M116.1 327.7h2.5M148.3 363.5h2.5M55.1 353.1h1.5M64.2 403h3M146.4 362.9h3M203 345.8h3M105 349.9h2.5M99.7 398.8h2M219.9 339.1h3M100.2 353.5h4M126.3 325.8h3M68.5 384.5h1.5M103.1 331h3M87.6 387.7h4M62.9 320.4h1.5M56.5 327.9h3M36.4 377.7h4M97 362.3h3M176 381.3h3M123.3 386.3h3M80.4 365.8h3M116.3 333.6h2M142.7 416.4h2.5M141.4 349.7h2M49.2 388.6h2M169 326.9h2.5M138.5 403.7h3M89.1 408.6h3M101.5 353.8h2M110.9 359.6h2.5M103.3 352.2h2.5M185.1 348.6h2.5M142.9 357.3h1.5M82.1 319.1h4M111 323.4h3M55.9 389.4h2M55.5 394.1h4M173.8 349h4M210 325.2h1.5M202.5 359h2.5M214.1 361.7h3M90.4 397h3M172 391h1.5M198.2 414.5h1.5M209 375.4h2M160.7 332.4h4M117.4 327.2h3M52.1 341.6h3M160.7 365.8h1.5M150.3 415.3h4M98.3 353h2M39 397.2h4M210.4 346h4M106.6 328.8h1.5M222.9 379h4M187.2 323.1h1.5M58.4 346.6h2.5M213.7 383.1h2.5M96.9 393.9h2M180.6 376.6h4M60.3 406.5h1.5M100.6 319.5h4M97.1 376.4h2.5M183.1 413.1h4M173.7 357.2h3M135 391.9h3M217.3 408.2h3M44 398.5h2M171.6 400.5h4M42.4 319.8h3M67.9 409.5h2M159.2 369.5h2.5M83.1 324.5h3M184.8 356.6h4M124.8 382.2h1.5M49.8 414.2h1.5M198.4 370.8h3M67.4 318.1h2M126.6 351.7h4M48 371.8h2M49 325.3h4M80.5 359.4h1.5M67.5 403h1.5M32.2 397h2M66.5 318.8h2.5M195.9 326h3M52.2 370.3h4M53 412.5h3M114 331.9h1.5M130.7 383.6h2M34.2 332.4h3M103.7 352.6h2.5M177.8 397.2h2.5M222.8 331.5h2.5M116.4 370.7h1.5M172.8 320.9h2M102.7 397h2.5M204.6 379.4h1.5M85.5 405.4h3M173.6 368h4M101.6 372.8h3M116.1 359.3h2.5M46.4 319.9h2.5M160.9 377.1h2.5M183.4 411.7h4M132.2 348.5h1.5M100.2 356h4M40 337.5h2M111.1 341.8h1.5M56.3 364.6h2M157.6 318.5h1.5M130.6 382.8h1.5M185 337h2M116.1 415h2.5M114.4 320.9h2M45.8 396.6h2M208.9 379.4h2.5M185.9 325.1h1.5M97.9 319.6h2M106.3 334.8h4M174.9 385.5h3M78.4 322.9h1.5M106.2 334.5h2M174.1 334.4h1.5M118.6 336.6h2.5M64.3 336.5h2M46.3 348h4M222.6 362h2.5M92.9 379.7h2M183.1 341.9h4M103.3 339h1.5M108.5 355.4h2M193.7 326.1h2M121.1 347.9h4M92.6 396.4h1.5M112 375.3h3M98.1 379.3h4M219.2 320.7h4M77.8 359h4M35.8 328.7h1.5M144.7 362.7h2M98.8 321.4h3M114.9 337.3h4M146.6 390.4h2.5M163.9 372.7h3M73.4 396.3h2.5M135.8 326.2h1.5M157.1 405.6h4M34.3 379.1h2.5M50.4 378.4h3M113 379.7h1.5M93.4 327.6h3M212.7 351.8h4M155.7 373.4h4M86.9 349.2h4M56.6 318.8h4M84.2 350.5h1.5M86.8 332.8h3M174.7 336.5h1.5M92 384.8h2M186.6 378.8h1.5M103.7 365.1h1.5M205.3 362.4h2.5M137.6 337.3h1.5M188.8 369.7h3M212.5 369.5h4M32.9 341.1h3M94.9 364.9h1.5M143.2 382.6h3M220.9 395h3M168.4 399.3h1.5M35 406.4h3M191.9 383.3h2.5M118.8 347.8h2.5M67.5 339.4h2.5M108.7 388.8h4M126.8 388.4h2.5M214.7 391.5h3M97.9 353.3h2M209.3 333.5h3M46.5 375.7h2.5M90.5 375.8h2.5M201.2 403.7h2.5M55.1 371.6h4M202.6 324.3h3M59.7 343.9h1.5M164.5 362.9h2M168.4 337.4h1.5M222.7 409.1h4M159.4 399.7h4M213.4 359.2h4M169.5 391.6h4M167.5 391.2h2M36.2 404.3h1.5M219.1 394.6h3M166.2 407.6h2.5M111 324.9h2M106.7 382.1h3M156.9 374.5h3M187.4 346.7h2M41.8 340.3h1.5M137.8 409.7h4M146.5 341.8h4M50.8 392.4h3M184 416.7h2.5M176.9 413.7h1.5M33.2 382.2h2M66.1 362.1h4M91.2 409.8h1.5M96.4 376.6h1.5M172.1 331.9h1.5M156.9 327.2h3M206.6 325.4h1.5M134.3 351.1h2.5M175.2 394.2h2.5M87 334.6h4M49.2 385.5h1.5M138.1 404h1.5M72 391.2h2.5M49.9 395.1h2M66 393h2.5M189.2 411.4h2M106.3 414.4h2M74.7 365.8h2.5M168.3 415.7h3M137.4 318.3h4M186.3 324.1h1.5M59.2 319.2h4M113.3 415.2h2.5M65.3 348.2h3M167.4 395.9h4M119.2 381.4h2.5M115.4 412.3h3M199.4 334h2M87.4 386.7h1.5M67 410.4h1.5M106.7 390.2h1.5M218.7 355.4h1.5M204.1 338.2h2.5M163.1 402.9h2.5M129.5 416h2M192.8 351.4h4M41.9 352.4h4M163.5 384.3h2M119.7 396.7h2.5M75.7 346.4h1.5M49.1 339h1.5M86.6 319.6h2.5M216.1 376.1h2M130.9 369h2.5M126.7 361.6h2.5M187.2 333.1h4M141.4 359.7h2M165.8 332.3h2.5M147.2 408.9h2.5M215.2 373.6h4M144.5 379.9h2.5M33.4 353.6h3M166.5 352.9h2M64 339.2h3M186.7 370.8h4M75.4 368.3h2.5M162.6 327h2.5M217.4 396.4h1.5M221.9 376.3h1.5M39.7 326.7h1.5M201.7 318.1h1.5M115.4 388.7h2.5M187.6 362.2h2.5M84.3 325.8h1.5M204.5 359.8h2.5M118.7 327.8h4M151.5 400.4h2.5M87.5 364.1h1.5M70.1 381.5h2M206.5 368.8h4M186.5 401.7h3M206.6 329.2h4M194.8 399.6h2.5M193.3 406.7h2.5M60.4 378.1h2.5M182.2 361.2h1.5M120.8 408.4h2M78 375.5h2M67.4 326h1.5M132.1 384h2.5M191.7 397.7h2M66.8 351.1h1.5M98.9 398.4h3M52.7 343.1h2M148.9 362.5h1.5M178.3 356.6h1.5M122.6 382.9h2M163.9 339.6h3M33.4 346.5h1.5M148.5 397h2.5M64.8 376.8h1.5M88.9 333.3h3M166.2 347.9h2M81.5 340.8h3M135 322.7h2M82.4 390.3h4M79.6 414.3h4M100.9 406.2h2M55.1 359.6h1.5M186.7 398.6h4M36.7 357.9h4M80.1 348.5h1.5M156 360.1h3M37.7 349.4h2.5M40.2 375.6h4M154.6 413h2M199 375.9h2.5M96 400.5h4M180.1 356.1h3M188.5 357.3h3M102.5 399.7h1.5M136.2 409.3h4M209.4 375.1h2M209.2 373.4h2.5M170.9 337.2h2.5M44.4 377.4h1.5M115.1 339.5h1.5M73.2 406h4M74.4 330.6h2M164.7 414.7h4M195.1 342h4M119.6 374.2h2.5M191.5 406.9h1.5M126.1 410.5h3M140.5 323.8h4M102.7 387.2h2.5M182.6 337.9h2M179.7 337.5h4M179.2 355.6h2M152.7 362.4h4M166 336.6h4M120.1 378.1h4M148.3 334.9h3M186.6 380.9h4M165.1 367.2h2M198 335.6h2.5M204.8 347.9h1.5M138 380.2h2.5M138.4 341.5h2.5M192.4 338.2h2M169.9 328.3h4M213.3 325.3h3M213.8 375.6h4M153.9 386h2M194 371.9h4M145.6 383h1.5M70.3 367.9h2.5M148 367.2h2M151.6 335.3h2M32.2 407h4M135.6 354.8h4M166.6 370.1h2M44.6 320.9h2.5M203.5 347.9h2.5M178.3 380.9h1.5M106.5 330.3h3M217.7 406.2h1.5M125.4 390.8h4M132.9 355.7h1.5M71.8 348h2.5M35.5 362h2M126.7 341.1h1.5M197.1 375.5h3M213.2 354.7h2.5M63.1 333.3h3M54.3 338.7h1.5M81.4 382.6h2.5M208.2 352.5h4M141.9 342.5h2.5M137.6 341.2h1.5M125.3 351.2h4M118.2 347.4h2M178.3 330.8h3M149.1 369.9h4M156.7 415.5h3M63.9 329.7h2M170.8 368.3h3M110.6 344.5h2.5M200.5 366.1h1.5M84.5 357.3h4M43.4 356.2h3M173.5 350.6h1.5M170.6 406.5h4M71.8 356.4h3M130.5 393.7h3M166.7 334.7h1.5M101.7 339.2h2M167.7 338.8h2.5M185.3 400.8h2.5M154.1 412.9h3M181.1 375.7h2M121.3 359.7h4M40.5 354.2h2.5M157 345.4h2.5M102.1 342.6h4M130.5 331.1h2M99.5 380.6h1.5M101.8 388.3h2.5M81.6 389.5h2M76.7 348.1h2M132.3 381.7h4M190.8 407.3h2M58.5 324h2.5M101.5 325.2h1.5M151.3 353.3h2.5M176.5 334.5h2.5M188.4 404.2h3M138.4 369.9h1.5M218.2 414.9h2M176.3 334.4h1.5M205.7 328.5h3M86.1 393.1h2.5M209.6 400.1h1.5M63.8 343.6h1.5M152.7 349.7h2.5M71.3 396.9h3M195.6 349.5h2M222.1 318.1h2M74.9 324h2M108 397.3h4M182.4 364.1h3M72.4 353.2h2.5M209.9 373h1.5M43.7 391.6h1.5M190.8 333.2h2M47.8 355.3h2.5M169.3 362.7h1.5M169.1 354.1h2M33 333.4h1.5M43.2 391.2h4M149.2 350.7h3M43.1 375.7h2M180.9 407.5h2.5M115.2 323h2.5M173.3 364h3M40.7 318.2h3M140.4 362h1.5M109.9 362.5h3M42.6 369h4M34.9 344.8h2.5M57.5 356.2h4M152.1 340.1h3M116.8 338h4M75.7 331.6h2.5M79.5 339.6h2M70.7 389.8h3M142 373.4h2M184 376.5h2.5M99.2 390.1h1.5M109.3 335.1h1.5M58.7 357.7h4M199.8 339.7h2M209.1 320.2h1.5M193.3 354.2h1.5M96.7 379.5h1.5M188.4 398.1h1.5M142.2 398.2h2M123.4 397.6h2M175.7 334.7h3M36.8 322.1h1.5M212.5 384.2h2.5M34 359.8h1.5M117.4 399.4h1.5M176.6 399.9h4M197.5 365.6h2M93.2 402.3h2M173.4 359.1h1.5M211.6 355.9h1.5M168.6 327.9h2.5M36.7 344.2h1.5M99.1 357.4h2.5M64.5 391.1h3M184.8 325.7h4M158.8 321.1h1.5M197.9 365h4M101.8 332.7h2.5M40.3 364.5h4M98.6 359.8h4M172.2 384.6h2.5M54.2 346.4h2.5M39.2 327.6h3M140.5 387.6h2M108.3 391.5h2M216.2 398.7h2M161.7 330.3h2.5M75.4 348.9h2M175.1 370.6h1.5M148.3 412.6h2M143.2 322.9h4M140.5 410.9h4M56.6 382.1h2.5M188.1 355.2h2.5M180.1 370.2h4M74.3 398.9h3M108.7 392.2h2M90.3 341.1h1.5M42.6 373.2h4M75.5 339.8h4M151.9 409.6h3M201.7 406.1h4M100.4 356.5h2M165.6 337h4M54.9 415.9h2M162.7 375.4h3M42.4 361.3h3M68.5 404.3h4M144.5 337.1h1.5M39.7 379.5h2M114.2 348.8h3M197 393.9h2M186.9 343.8h1.5M171.7 375.5h2.5M59.9 356.2h4M94.7 369.3h4M142.7 371.2h2.5M109 356.9h4M215.2 397.9h2.5M205.4 389.5h4M165.6 400h2.5M111.1 404.3h4M118.5 340.5h3M50.6 413.1h2M184.9 335.9h4M132.3 404h2M116.6 356.9h1.5M158.9 351.3h1.5M59.1 342.4h4M129.5 353.7h3M56.4 327.7h2.5M145.5 329.8h1.5M95.2 372.5h3M122.8 325.3h2.5M59.3 365h2.5M140 363.5h3M93.2 362.7h3M220.8 345.7h2M112.3 362h2M203 403.4h3M215.1 387.4h1.5M49 388.3h1.5M220 378h3M106.5 324.5h1.5M158.7 397.1h3M186.3 416.3h3M113.8 392.6h2M63.2 341.6h2.5M201.6 335.5h3M108.6 409.2h3M108.1 338.7h2.5M107.2 414.5h2M39.3 338h4M217.8 360.5h2M137.2 323.3h2.5M215.7 368.7h4M78.4 352.1h2.5M127.6 379.5h2.5M215.1 324.3h2M95.2 408.1h3M157 369.9h2M216.9 399.9h2M82.2 375.3h4M138.5 412.7h1.5M191.3 398.1h1.5M94.4 330.9h2M126 385.1h2M84.3 344.2h2M159.5 402.7h2.5M134.2 319.1h3M128.9 325.3h4M106.4 319.1h4M66 320.8h4M51.9 369.7h2.5M222.3 331.6h3M67.4 327h4M176.5 376.8h1.5M161.7 377.9h2M72.2 375.4h1.5M129.7 323.5h2M84.1 358.8h2.5M157 384.1h4M99.1 326.2h2M122 371.7h1.5M118.5 398.6h1.5M135 347.6h1.5M196 362h1.5M143.6 389.2h3M155.1 375.1h2M143.1 383.8h4M69 366.8h3M218.4 390.5h4M84.9 351h1.5M220.8 380.5h2M138.8 410.7h4M136.6 402h2.5M72.2 398.2h3M147 335.4h4M135.7 399.9h2M191.4 327.5h2M82.1 390.9h2.5M80.6 360.1h1.5M129.3 365.2h3M113.3 344.4h4M176.1 341.6h4M77.7 375.6h2.5M35.5 408.6h2M198.4 337.4h2.5M163.2 333.9h1.5M78.1 405.2h3M161.5 335.8h2.5M200.1 415.1h1.5M69.6 338.3h2M72.7 325.7h2M162.4 384.9h4M71.1 381.5h1.5M69.3 320.6h3M71.7 337.3h3M180.3 415.5h3M68.8 330.2h3M116.4 345.8h4M59.1 346.3h4M43.1 366.4h2M151.5 400.6h4M102.5 376.6h4M171 383.5h2M143.1 401.7h4M45.9 383.1h1.5M133 384.3h2.5M198.4 386.7h2M115.3 398.2h2.5M133.1 350.5h2M176.7 318.2h1.5M76.4 355.9h4M172.3 387.5h3M145 357.1h2.5M128.7 386.4h3M83 408.8h2M115.1 394.1h2.5M110.7 395.5h2.5M128.2 379.6h2.5M99.6 415.5h2M150.7 379.9h4M50.2 359.6h4M171.3 365.2h1.5M106.4 358.6h2.5M99.6 373.3h3M62.5 335.7h2.5M172.1 385.2h1.5M52 410.9h2M139.2 330.3h3M125.1 413h2M45.8 376.3h1.5M69.5 358.6h1.5M43.4 404.6h3M175.2 390.8h1.5M92.2 409h4M117.2 363.1h2M105.6 351.2h3M99.1 378.8h2M44.1 367.4h4M130.4 337.5h3M169.6 393.8h2M107 345.1h2M58.2 352.2h2M72.5 398.4h2.5M54.6 339.2h2M169.7 332.7h3M77.8 351.9h1.5M118.2 356.8h1.5M62.1 385.5h2M190.4 374.6h2M164.1 382.5h2.5M101.9 331.5h1.5M132.9 397.9h4M61.5 400.3h3M218.4 328.6h4M182.1 375h3M120.1 395.3h3M205.7 360h1.5M134.3 360.7h1.5M119.5 384.7h2M58.4 350.6h2.5M96 355.8h2.5M38.1 407.6h2.5M131.1 353.2h1.5M116.6 400.7h2.5M132.1 375.6h3M67.2 344.5h2M160.2 377.1h4M34.7 379.5h2M114.7 322.7h3M49.9 346.3h1.5M159.7 329.4h2.5M146.7 362.3h4M145.3 369.9h3M172.2 391.4h3M94.2 400.7h2.5M143.8 352.2h2.5M160.2 415.5h2.5M185.6 377.2h3M211.9 328h4M99.2 340.3h2M129.4 332.2h4M157.5 415h2.5M60.3 413.2h3M138.9 380.4h2.5M146.8 340.8h4M163.7 328.7h3M154.3 339.7h2.5M102.8 331.1h2.5M179.8 414.1h2.5M63.7 320.1h1.5M57.7 348.8h2.5M202.9 327.8h3M153.5 366.7h2M182.2 329.8h2.5M151.5 320.8h1.5M93.8 351.6h3M142.1 399h4M84.6 375h1.5M210.2 378.5h4M33.7 384.4h4M150 334.3h1.5M113.5 351h2M144.7 361.9h4M104.8 383.9h2M36.4 413.5h3M60.4 330.2h1.5M171 378.8h3M214.4 410.5h2.5M103.1 378h2M188.5 318.6h4M132.9 323.5h2.5M142.5 379.1h2M136.4 345.3h2.5M115.9 373.6h4M199.9 383.7h1.5M217.3 381.4h4M106.5 327.2h1.5M99.7 410.8h2.5M167.2 347.6h3M138.4 404.3h4M57.2 408.3h3M71.9 341.2h2.5M103.2 345.9h2.5M177.8 404.3h1.5M165.1 406.4h2.5M210.2 384.5h1.5M149.3 390.6h2.5M61.7 389.6h2M114.3 339.2h1.5M95 330h2M112 389.5h2M169.3 381.3h4M67 384.4h1.5M82.1 408.9h1.5M52.4 401.9h3M178.2 337.7h1.5M176.7 347h1.5M175.5 321.6h2M173.7 409.3h4M156.3 374.1h3M56 401.4h4M197.2 319.4h3M162.2 387.4h3M184.7 413.6h1.5M79.3 335.1h1.5M72.5 360h4M198.8 332.4h3M210.4 401.7h2M166.6 352.2h1.5M145.7 329.4h2.5M156.8 353.3h2.5M179.3 387.3h4M68.8 338.6h3M108.9 412.3h1.5M107.5 383h2M133.3 392.5h2M143.6 405.1h4M177.6 342.1h3M116.1 408.3h4M88.6 381.4h2M205.5 414.2h3M152.4 391.9h1.5M141.7 399.9h2.5M47.7 405.4h3M164.1 346.6h3M60.7 338.4h3M98.1 387.1h4M219.4 405.5h1.5M133.3 318h2.5M113.2 363.2h4M68.9 329h4M157.4 360.8h3M170.7 360.6h2M213.5 324.1h1.5M128.9 401.8h4M192.2 340.8h2M96.1 350.4h2M157.7 344.8h4M152 411.6h4M92.2 364.6h1.5M218.3 345.3h2M41.3 412.9h2M77.3 353.6h3M207.4 379.7h3M80.5 381.9h2.5M193.6 319.2h1.5M155.9 341.7h2M139.3 363.2h1.5M135 408.9h3M35.5 414.1h2M170.2 401.7h4M174.9 350.5h3M49.5 345.3h2.5M148.7 368.1h1.5M180.3 377.2h2M160.7 408h1.5M101.3 335.2h2.5M197.9 413.6h2.5M183.8 409.7h2M125 415.7h2.5M102.7 363.7h1.5M59.2 328.4h4M103.5 343.6h2.5" stroke="#b2b2b2" stroke-width="1" fill="none"/>
<rect x="181.1" y="248.2" width="11" height="168.7" fill="#b0b0b0" opacity="0.45"/>
<rect x="185.3" y="248.2" width="4.3" height="1.1" fill="#cccccc"/>
<rect x="184.3" y="249.2" width="5" height="1.1" fill="#c7c7c7"/>
<rect x="182.9" y="250.2" width="6.9" height="1.1" fill="#c7c7c7"/>
<rect x="183.5" y="251.2" width="7.2" height="1.1" fill="#b5b5b5"/>
<rect x="183.5" y="252.2" width="7.5" height="1.1" fill="#b5b5b5"/>
<rect x="184" y="253.2" width="6.1" height="1.1" fill="#cccccc"/>
<rect x="182.3" y="254.2" width="7.3" height="1.1" fill="#c7c7c7"/>
<rect x="182.1" y="255.2" width="7.6" height="1.1" fill="#c2c2c2"/>
<rect x="184.3" y="256.2" width="6.6" height="1.1" fill="#b5b5b5"/>
<rect x="184.4" y="257.2" width="4.7" height="1.1" fill="#cccccc"/>
<rect x="183.7" y="258.2" width="6.5" height="1.1" fill="#c2c2c2"/>
<rect x="182" y="259.2" width="7.3" height="1.1" fill="#cfcfcf"/>
<rect x="182.4" y="260.2" width="6.3" height="1.1" fill="#c2c2c2"/>
<rect x="184" y="261.2" width="4.7" height="1.1" fill="#c7c7c7"/>
<rect x="184.4" y="262.2" width="4.1" height="1.1" fill="#c2c2c2"/>
<rect x="181.7" y="263.2" width="7.9" height="1.1" fill="#cfcfcf"/>
<rect x="182.4" y="264.2" width="6.9" height="1.1" fill="#cfcfcf"/>
<rect x="184.6" y="265.2" width="4.5" height="1.1" fill="#b5b5b5"/>
<rect x="184.8" y="266.2" width="4.9" height="1.1" fill="#cccccc"/>
<rect x="181.6" y="267.2" width="7.9" height="1.1" fill="#b5b5b5"/>
<rect x="182.8" y="268.2" width="7.4" height="1.1" fill="#cccccc"/>
<rect x="184" y="269.2" width="7" height="1.1" fill="#c2c2c2"/>
<rect x="182.1" y="270.2" width="7.9" height="1.1" fill="#c2c2c2"/>
<rect x="183.3" y="271.2" width="7.7" height="1.1" fill="#cfcfcf"/>
<rect x="183.9" y="272.2" width="6.6" height="1.1" fill="#cfcfcf"/>
<rect x="183.1" y="273.2" width="6.5" height="1.1" fill="#cccccc"/>
<rect x="182.4" y="274.2" width="7.2" height="1.1" fill="#b5b5b5"/>
<rect x="183.4" y="275.2" width="5.8" height="1.1" fill="#b5b5b5"/>
<rect x="182.6" y="276.2" width="8.1" height="1.1" fill="#c7c7c7"/>
<rect x="182.4" y="277.2" width="8.2" height="1.1" fill="#cfcfcf"/>
<rect x="184.1" y="278.2" width="5.9" height="1.1" fill="#b5b5b5"/>
<rect x="182.3" y="279.2" width="7.5" height="1.1" fill="#c7c7c7"/>
<rect x="182.4" y="280.2" width="6.9" height="1.1" fill="#c7c7c7"/>
<rect x="184.9" y="281.2" width="5.6" height="1.1" fill="#cfcfcf"/>
<rect x="184.8" y="282.2" width="5.1" height="1.1" fill="#c2c2c2"/>
<rect x="183.6" y="283.2" width="7.9" height="1.1" fill="#cfcfcf"/>
<rect x="182.5" y="284.2" width="6.3" height="1.1" fill="#cccccc"/>
<rect x="183.4" y="285.2" width="5.3" height="1.1" fill="#cccccc"/>
<rect x="183.4" y="286.2" width="6.2" height="1.1" fill="#cfcfcf"/>
<rect x="182.4" y="287.2" width="7.7" height="1.1" fill="#c2c2c2"/>
<rect x="184" y="288.2" width="6.9" height="1.1" fill="#cccccc"/>
<rect x="182.4" y="289.2" width="6.6" height="1.1" fill="#c2c2c2"/>
<rect x="184.8" y="290.2" width="4.7" height="1.1" fill="#c2c2c2"/>
<rect x="184.9" y="291.2" width="4.7" height="1.1" fill="#c7c7c7"/>
<rect x="182.9" y="292.2" width="5.4" height="1.1" fill="#b5b5b5"/>
<rect x="184.1" y="293.2" width="4.8" height="1.1" fill="#cccccc"/>
<rect x="182.1" y="294.2" width="8.3" height="1.1" fill="#cccccc"/>
<rect x="183.8" y="295.2" width="5.3" height="1.1" fill="#cccccc"/>
<rect x="181.4" y="296.2" width="8.4" height="1.1" fill="#b5b5b5"/>
<rect x="184.1" y="297.2" width="4.7" height="1.1" fill="#c2c2c2"/>
<rect x="184" y="298.2" width="4.8" height="1.1" fill="#b5b5b5"/>
<rect x="182.9" y="299.2" width="5.9" height="1.1" fill="#cfcfcf"/>
<rect x="183.8" y="300.2" width="5.4" height="1.1" fill="#cccccc"/>
<rect x="183.7" y="301.2" width="4.3" height="1.1" fill="#c7c7c7"/>
<rect x="184.2" y="302.2" width="7.2" height="1.1" fill="#b5b5b5"/>
<rect x="182.8" y="303.2" width="8" height="1.1" fill="#cccccc"/>
<rect x="183.1" y="304.2" width="4.9" height="1.1" fill="#c7c7c7"/>
<rect x="184.8" y="305.2" width="4.4" height="1.1" fill="#c2c2c2"/>
<rect x="183.8" y="306.2" width="5.4" height="1.1" fill="#c2c2c2"/>
<rect x="182.2" y="307.2" width="8.3" height="1.1" fill="#c2c2c2"/>
<rect x="183.2" y="308.2" width="7.3" height="1.1" fill="#c2c2c2"/>
<rect x="184" y="309.2" width="3.9" height="1.1" fill="#b8b8b8"/>
<rect x="184.2" y="310.2" width="5.7" height="1.1" fill="#bababa"/>
<rect x="183.5" y="311.2" width="4.4" height="1.1" fill="#bababa"/>
<rect x="182.9" y="312.2" width="5.2" height="1.1" fill="#b3b3b3"/>
<rect x="184.2" y="313.2" width="3.7" height="1.1" fill="#bababa"/>
<rect x="183.3" y="314.2" width="4.6" height="1.1" fill="#a1a1a1"/>
<rect x="184.5" y="315.2" width="2.8" height="1.1" fill="#b8b8b8"/>
<rect x="184.6" y="316.2" width="5.2" height="1.1" fill="#adadad"/>
<rect x="185.3" y="317.2" width="4.6" height="1.1" fill="#adadad"/>
<rect x="186.2" y="318.2" width="2.9" height="1.1" fill="#b8b8b8"/>
<rect x="184.5" y="319.2" width="5.6" height="1.1" fill="#cccccc"/>
<rect x="182.8" y="320.2" width="8.6" height="1.1" fill="#c2c2c2"/>
<rect x="183.7" y="321.2" width="7.5" height="1.1" fill="#c2c2c2"/>
<rect x="182" y="322.2" width="7.1" height="1.1" fill="#cccccc"/>
<rect x="184.7" y="323.2" width="5.9" height="1.1" fill="#b5b5b5"/>
<rect x="185.1" y="324.2" width="4.7" height="1.1" fill="#c2c2c2"/>
<rect x="183.5" y="325.2" width="6.1" height="1.1" fill="#c2c2c2"/>
<rect x="182.7" y="326.2" width="6" height="1.1" fill="#b5b5b5"/>
<rect x="183.1" y="327.2" width="7.7" height="1.1" fill="#cccccc"/>
<rect x="182.1" y="328.2" width="7.5" height="1.1" fill="#b5b5b5"/>
<rect x="183.5" y="329.2" width="7" height="1.1" fill="#cccccc"/>
<rect x="181.7" y="330.2" width="7.7" height="1.1" fill="#c2c2c2"/>
<rect x="184.7" y="331.2" width="4.8" height="1.1" fill="#cfcfcf"/>
<rect x="183.9" y="332.2" width="4.9" height="1.1" fill="#b5b5b5"/>
<rect x="185" y="333.2" width="4.8" height="1.1" fill="#cccccc"/>
<rect x="182.9" y="334.2" width="8.3" height="1.1" fill="#c2c2c2"/>
<rect x="182.8" y="335.2" width="8.1" height="1.1" fill="#c7c7c7"/>
<rect x="183.8" y="336.2" width="4.2" height="1.1" fill="#c2c2c2"/>
<rect x="183.7" y="337.2" width="4.8" height="1.1" fill="#c2c2c2"/>
<rect x="181.9" y="338.2" width="8.4" height="1.1" fill="#cfcfcf"/>
<rect x="182.8" y="339.2" width="6.8" height="1.1" fill="#cccccc"/>
<rect x="184.6" y="340.2" width="4.3" height="1.1" fill="#cccccc"/>
<rect x="183.7" y="341.2" width="6.9" height="1.1" fill="#c2c2c2"/>
<rect x="184.3" y="342.2" width="5.6" height="1.1" fill="#b5b5b5"/>
<rect x="185.2" y="343.2" width="4.7" height="1.1" fill="#c2c2c2"/>
<rect x="181.9" y="344.2" width="7.5" height="1.1" fill="#c2c2c2"/>
<rect x="185.5" y="345.2" width="4.6" height="1.1" fill="#c7c7c7"/>
<rect x="185.6" y="346.2" width="4.3" height="1.1" fill="#cccccc"/>
<rect x="183.3" y="347.2" width="5.8" height="1.1" fill="#c7c7c7"/>
<rect x="184.5" y="348.2" width="5.6" height="1.1" fill="#b5b5b5"/>
<rect x="183.5" y="349.2" width="6.2" height="1.1" fill="#cfcfcf"/>
<rect x="183" y="350.2" width="7.5" height="1.1" fill="#c2c2c2"/>
<rect x="181.3" y="351.2" width="8.5" height="1.1" fill="#cccccc"/>
<rect x="183.9" y="352.2" width="4.3" height="1.1" fill="#b5b5b5"/>
<rect x="182.3" y="353.2" width="7" height="1.1" fill="#b5b5b5"/>
<rect x="184.3" y="354.2" width="4.2" height="1.1" fill="#b5b5b5"/>
<rect x="184.1" y="355.2" width="4.3" height="1.1" fill="#cfcfcf"/>
<rect x="184.2" y="356.2" width="5.3" height="1.1" fill="#cfcfcf"/>
<rect x="184.9" y="357.2" width="5.4" height="1.1" fill="#c7c7c7"/>
<rect x="184.7" y="358.2" width="4.4" height="1.1" fill="#b5b5b5"/>
<rect x="184.3" y="359.2" width="6.5" height="1.1" fill="#cfcfcf"/>
<rect x="185.3" y="360.2" width="4.8" height="1.1" fill="#c2c2c2"/>
<rect x="182.6" y="361.2" width="7" height="1.1" fill="#cfcfcf"/>
<rect x="183.9" y="362.2" width="6.4" height="1.1" fill="#cfcfcf"/>
<rect x="181.7" y="363.2" width="7.5" height="1.1" fill="#c7c7c7"/>
<rect x="182.8" y="364.2" width="5.6" height="1.1" fill="#cfcfcf"/>
<rect x="184.5" y="365.2" width="5.5" height="1.1" fill="#c7c7c7"/>
<rect x="182.5" y="366.2" width="8.1" height="1.1" fill="#cccccc"/>
<rect x="183.9" y="367.2" width="5" height="1.1" fill="#cfcfcf"/>
<rect x="182.6" y="368.2" width="6.9" height="1.1" fill="#c2c2c2"/>
<rect x="183.5" y="369.2" width="7.3" height="1.1" fill="#c2c2c2"/>
<rect x="183.1" y="370.2" width="8.5" height="1.1" fill="#cfcfcf"/>
<rect x="185.3" y="371.2" width="4.2" height="1.1" fill="#c7c7c7"/>
<rect x="185.3" y="372.2" width="4.9" height="1.1" fill="#cfcfcf"/>
<rect x="183.5" y="373.2" width="6.2" height="1.1" fill="#b5b5b5"/>
<rect x="184.4" y="374.2" width="5.3" height="1.1" fill="#cccccc"/>
<rect x="184.4" y="375.2" width="5.7" height="1.1" fill="#cccccc"/>
<rect x="182.6" y="376.2" width="7.8" height="1.1" fill="#cccccc"/>
<rect x="183.1" y="377.2" width="5.8" height="1.1" fill="#c2c2c2"/>
<rect x="185" y="378.2" width="4.9" height="1.1" fill="#b5b5b5"/>
<rect x="183" y="379.2" width="7" height="1.1" fill="#c2c2c2"/>
<rect x="182.9" y="380.2" width="7" height="1.1" fill="#b5b5b5"/>
<rect x="183.1" y="381.2" width="7.7" height="1.1" fill="#cccccc"/>
<rect x="184.6" y="382.2" width="5.3" height="1.1" fill="#cccccc"/>
<rect x="183.2" y="383.2" width="4.8" height="1.1" fill="#cfcfcf"/>
<rect x="182.7" y="384.2" width="6.3" height="1.1" fill="#cccccc"/>
<rect x="184.9" y="385.2" width="4.1" height="1.1" fill="#c2c2c2"/>
<rect x="183" y="386.2" width="6.3" height="1.1" fill="#cccccc"/>
<rect x="183.3" y="387.2" width="7.3" height="1.1" fill="#cccccc"/>
<rect x="182.5" y="388.2" width="6.2" height="1.1" fill="#c2c2c2"/>
<rect x="182.4" y="389.2" width="7.8" height="1.1" fill="#b5b5b5"/>
<rect x="184.7" y="390.2" width="6.1" height="1.1" fill="#c7c7c7"/>
<rect x="182.1" y="391.2" width="7.2" height="1.1" fill="#c2c2c2"/>
<rect x="182.5" y="392.2" width="8" height="1.1" fill="#c7c7c7"/>
<rect x="184.2" y="393.2" width="4.4" height="1.1" fill="#cfcfcf"/>
<rect x="183.7" y="394.2" width="6.3" height="1.1" fill="#cccccc"/>
<rect x="182.4" y="395.2" width="7.6" height="1.1" fill="#cfcfcf"/>
<rect x="184.6" y="396.2" width="4.6" height="1.1" fill="#cccccc"/>
<rect x="182.9" y="397.2" width="7.5" height="1.1" fill="#c7c7c7"/>
<rect x="182.4" y="398.2" width="8.3" height="1.1" fill="#b5b5b5"/>
<rect x="185.4" y="399.2" width="4.2" height="1.1" fill="#cccccc"/>
<rect x="184" y="400.2" width="6" height="1.1" fill="#c2c2c2"/>
<rect x="184.8" y="401.2" width="5.9" height="1.1" fill="#b5b5b5"/>
<rect x="183.1" y="402.2" width="7.3" height="1.1" fill="#cfcfcf"/>
<rect x="184.2" y="403.2" width="6.1" height="1.1" fill="#c2c2c2"/>
<rect x="183.2" y="404.2" width="6.9" height="1.1" fill="#c2c2c2"/>
<rect x="183.4" y="405.2" width="4.1" height="1.1" fill="#cfcfcf"/>
<rect x="183.6" y="406.2" width="8.5" height="1.1" fill="#b5b5b5"/>
<rect x="182.3" y="407.2" width="8.6" height="1.1" fill="#c7c7c7"/>
<rect x="183.3" y="408.2" width="5.9" height="1.1" fill="#b5b5b5"/>
<rect x="182.1" y="409.2" width="8.5" height="1.1" fill="#c2c2c2"/>
<rect x="184.7" y="410.2" width="4.8" height="1.1" fill="#b5b5b5"/>
<rect x="184.1" y="411.2" width="7.2" height="1.1" fill="#c7c7c7"/>
<rect x="182.8" y="412.2" width="5.6" height="1.1" fill="#cfcfcf"/>
<rect x="184.1" y="413.2" width="7.2" height="1.1" fill="#b5b5b5"/>
<rect x="184.6" y="414.2" width="5.5" height="1.1" fill="#b5b5b5"/>
<rect x="183.6" y="415.2" width="7.4" height="1.1" fill="#c7c7c7"/>
<rect x="182.7" y="416.2" width="7.3" height="1.1" fill="#cccccc"/>
<rect x="141.4" y="309.6" width="2.9" height="1.1" fill="#d1d1d1"/>
<rect x="141.7" y="310.6" width="2.8" height="1.1" fill="#d1d1d1"/>
<rect x="142.4" y="311.6" width="2.3" height="1.1" fill="#d6d6d6"/>
<rect x="142.3" y="312.6" width="2.5" height="1.1" fill="#d1d1d1"/>
<rect x="141.6" y="313.6" width="3.4" height="1.1" fill="#cccccc"/>
<rect x="142.4" y="314.6" width="2.2" height="1.1" fill="#d1d1d1"/>
<rect x="141.3" y="315.6" width="3.6" height="1.1" fill="#b2b2b2"/>
<rect x="141.9" y="316.6" width="2.5" height="1.1" fill="#cccccc"/>
<rect x="141.6" y="317.6" width="3.2" height="1.1" fill="#b2b2b2"/>
<rect x="141.9" y="318.6" width="2.3" height="1.1" fill="#cccccc"/>
<rect x="142" y="319.6" width="3" height="1.1" fill="#d1d1d1"/>
<rect x="141.1" y="320.6" width="3.5" height="1.1" fill="#d1d1d1"/>
<rect x="141.7" y="321.6" width="2.3" height="1.1" fill="#cccccc"/>
<rect x="141.9" y="322.6" width="3" height="1.1" fill="#d6d6d6"/>
<rect x="141.5" y="323.6" width="3.5" height="1.1" fill="#d6d6d6"/>
<rect x="141.5" y="324.6" width="3.5" height="1.1" fill="#d1d1d1"/>
<rect x="141.5" y="325.6" width="2.8" height="1.1" fill="#b2b2b2"/>
<rect x="141.9" y="326.6" width="2.2" height="1.1" fill="#b2b2b2"/>
<rect x="141.8" y="327.6" width="3.2" height="1.1" fill="#d6d6d6"/>
<rect x="141.6" y="328.6" width="2.8" height="1.1" fill="#b2b2b2"/>
<path d="M128.3 325.6h2M115.4 323h5M112.3 325.3h4M119 318.8h4M133.1 329.3h3M115.6 327.3h3M138.3 318.7h4M130.5 320h3M135.3 324.2h2M127.7 319.1h2M133.9 317.9h3M118.3 328.7h2M137.4 330h5M127.6 323.1h3M127.2 320.1h3M125.3 317.9h3M139.9 329.5h4M135 326.2h3M130.4 321h4M138 326.5h2M131 321.5h5M138.4 318.9h3M113.6 325.4h4M124.6 325.8h4M119.3 317.9h5M125.2 318.6h2M112.8 329.5h4M120.6 322.3h3M122 328.7h2M120.8 321.7h5" stroke="#c2c2c2" stroke-width="1" fill="none"/>
</g>
<rect x="32.9" y="315.5" width="191.2" height="1.4" fill="#1f7fe6" opacity="0.9"/>
</g>
<ellipse cx="142.9" cy="319.1" rx="5.6" ry="2.1" fill="none" stroke="#eef2cc" stroke-width="0.7"/>
<path d="M160.6 324.2L152.43 321.62" stroke="#000" stroke-width="0.55" fill="none"/>
<path d="M148.9 320.5L154.65 320.22L152.43 321.62L153.45 324.04z" fill="#000"/>
<text class="a" x="162" y="326.6">Target 2</text>
<rect x="33.9" y="248.2" width="189.2" height="168.7" fill="none" stroke="#3c3c3c" stroke-width="0.5"/>
<text class="t" x="29.7" y="402.7" text-anchor="end">20</text>
<text class="t" x="29.7" y="385.8" text-anchor="end">40</text>
<text class="t" x="29.7" y="369" text-anchor="end">60</text>
<text class="t" x="29.7" y="352.1" text-anchor="end">80</text>
<text class="t" x="29.7" y="335.2" text-anchor="end">100</text>
<text class="t" x="29.7" y="318.4" text-anchor="end">120</text>
<text class="t" x="29.7" y="301.5" text-anchor="end">140</text>
<text class="t" x="29.7" y="284.6" text-anchor="end">160</text>
<text class="t" x="29.7" y="267.7" text-anchor="end">180</text>
<text class="t" x="29.7" y="250.9" text-anchor="end">200</text>
<text class="t" x="33.9" y="426.7" text-anchor="middle">-1</text>
<text class="t" x="81.2" y="426.7" text-anchor="middle">-0.5</text>
<text class="t" x="128.5" y="426.7" text-anchor="middle">0</text>
<text class="t" x="175.8" y="426.7" text-anchor="middle">0.5</text>
<text class="t" x="223.1" y="426.7" text-anchor="middle">1</text>
<path d="M33.9 400.5h1.8M223.1 400.5h-1.8M33.9 383.6h1.8M223.1 383.6h-1.8M33.9 366.7h1.8M223.1 366.7h-1.8M33.9 349.8h1.8M223.1 349.8h-1.8M33.9 333h1.8M223.1 333h-1.8M33.9 316.1h1.8M223.1 316.1h-1.8M33.9 299.2h1.8M223.1 299.2h-1.8M33.9 282.4h1.8M223.1 282.4h-1.8M33.9 265.5h1.8M223.1 265.5h-1.8M33.9 248.6h1.8M223.1 248.6h-1.8M33.9 416.9v-1.8M33.9 248.2v1.8M81.2 416.9v-1.8M81.2 248.2v1.8M128.5 416.9v-1.8M128.5 248.2v1.8M175.8 416.9v-1.8M175.8 248.2v1.8M223.1 416.9v-1.8M223.1 248.2v1.8" stroke="#3c3c3c" stroke-width="0.5" fill="none"/>
<text class="l" x="128.5" y="436.4" text-anchor="middle">Normalized Doppler Frequency</text>
<text class="l" transform="translate(15.1 332.5) rotate(-90)" text-anchor="middle">Range Bin</text>
<rect x="229.5" y="248.2" width="10.8" height="168.7" fill="url(#par)" stroke="#3c3c3c" stroke-width="0.4"/>
<text class="c" x="242.5" y="250.4">0</text>
<text class="c" x="242.5" y="277.1">-20</text>
<text class="c" x="242.5" y="303.7">-40</text>
<text class="c" x="242.5" y="330.4">-60</text>
<text class="c" x="242.5" y="357.1">-80</text>
<text class="c" x="242.5" y="383.8">-100</text>
<text class="c" x="242.5" y="410.4">-120</text>
<path d="M240.3 248.2h-1.5M240.3 274.9h-1.5M240.3 301.5h-1.5M240.3 328.2h-1.5M240.3 354.9h-1.5M240.3 381.6h-1.5M240.3 408.2h-1.5" stroke="#3c3c3c" stroke-width="0.5" fill="none"/>
<path d="M360.4 9.3V183M407.1 9.3V183M453.9 9.3V183M500.6 9.3V183M313.6 9.3H500.6M313.6 38.2H500.6M313.6 67.2H500.6M313.6 96.1H500.6M313.6 125.1H500.6M313.6 154.1H500.6" stroke="#e2e2e2" stroke-width="0.6" fill="none"/>
<path d="M313.6 66.5L314.7 66.2L315.8 64.6L316.9 59.1L318 61.7L319.1 67.3L320.2 60.2L321.3 64.9L322.4 61.1L323.5 66.3L324.6 63.1L325.7 62.7L326.8 65.1L327.9 61.7L329 61.7L330.1 63.2L331.2 61.1L332.3 65.5L333.4 62.8L334.5 63.6L335.6 61.8L336.7 64.6L337.8 61.5L338.9 59.5L340 63.1L341.1 63.2L342.2 64.4L343.3 62.9L344.4 64.1L345.5 65.9L346.6 57.6L347.7 64.1L348.8 59.7L349.9 62.5L351 65.6L352.1 65.3L353.2 63L354.3 67.1L355.4 66L356.5 62.3L357.6 57.7L358.7 61.9L359.8 59.1L360.9 65.6L362 63.1L363.1 64.5L364.2 65L365.3 63.3L366.4 64.7L367.5 64.6L368.6 63.9L369.7 63.4L370.8 65.3L371.9 58.5L373 66.6L374.1 63.2L375.2 63.4L376.3 63.5L377.4 58L378.5 65.9L379.6 65L380.7 60.3L381.8 62.1L382.9 67.3L384 61L385.1 60.3L386.2 63.6L387.3 62.6L388.4 62.3L389.5 62.8L390.6 62.9L391.7 65.8L392.8 60.4L393.9 61.2L395 65.1L396.1 67L397.2 59.1L398.3 62.8L399.4 62.3L400.5 62.5L400.8 62.9L401.9 52.7L405.2 51.3L406.9 45.2L411.7 44L413.5 38.5L415.6 39.3L416.5 42.6L417.8 32.7L419.3 24.5L420.9 12.9L421.8 9.3L422.7 12.9L424.3 24.5L425.5 32.7L425.9 51.3L427.4 52.7L428.1 63.6L429.1 58.9L430.2 64.6L431.3 63.8L432.4 63.8L433.5 67.4L434.6 60.2L435.7 65.6L436.8 63.9L437.9 66.8L439 61.3L440.1 64.2L441.2 67.4L442.3 65.4L443.4 62.3L444.5 67L445.6 61L446.7 65.2L447.8 65.6L448.9 66.8L450 62.5L451.1 64.7L452.2 65.7L453.3 65L454.4 65.5L455.5 64.9L456.6 64L457.7 65.6L458.8 63L459.9 66.1L461 66.5L462.1 62.9L463.2 62.4L464.3 64.6L465.4 63.7L466.5 63.1L467.6 67.2L468.7 65.8L469.8 59.8L470.9 61.8L472 59.2L473.1 62.8L474.2 66.5L475.3 66.5L476.4 62.6L477.5 66.9L478.6 65.2L479.7 63.3L480.8 62.4L481.9 62.2L483 66.4L484.1 57.5L485.2 66.5L486.3 60L487.4 58.2L488.5 65.4L489.6 66.4L490.7 58.6L491.8 60.3L492.9 66.1L494 63.7L495.1 65.7L496.2 63.1L497.3 61.8L498.4 66L499.5 66.1L500.6 60.6L500.6 163.8L499.5 174.3L498.4 141.8L497.3 166.2L496.2 165.6L495.1 144.6L494 144.8L492.9 140.7L491.8 150.5L490.7 155.1L489.6 154.5L488.5 162.2L487.4 164.3L486.3 139.4L485.2 139.2L484.1 142.4L483 146.7L481.9 144.1L480.8 138.9L479.7 156.5L478.6 145.6L477.5 152.9L476.4 139.6L475.3 142.9L474.2 161.5L473.1 159L472 165L470.9 163.4L469.8 144.2L468.7 159.2L467.6 139.1L466.5 159.8L465.4 154.6L464.3 142.6L463.2 145.3L462.1 144.6L461 156.5L459.9 165.2L458.8 146.5L457.7 165L456.6 144.1L455.5 155.9L454.4 172.9L453.3 160.9L452.2 139.7L451.1 157.8L450 144.1L448.9 156.6L447.8 158.3L446.7 148.7L445.6 143.9L444.5 144.9L443.4 166.6L442.3 138.4L441.2 141.3L440.5 139.1L439.5 150L438.3 170.7L436.9 150L435.7 154.3L434.1 147L432.4 142.5L430.9 145.9L429.6 155.5L428.7 137L427.4 131L425.9 125L424.2 111.8L422.9 116L421.5 127L420.5 118L419.4 112.9L418.4 120L417.2 135.8L415.9 119L414.5 111.8L412.4 117L410.3 125L408.4 131L406.4 135.8L404.4 129L402.4 126L399.2 143.5L395.9 141.3L395 146.8L393.9 147.5L392.8 163.3L391.7 164.3L390.6 143.3L389.5 144.9L388.4 151.4L387.3 164.9L386.2 160.3L385.1 145.3L384 142.1L382.9 150.1L381.8 138.3L380.7 138.4L379.6 151.9L378.5 146.3L377.4 139.9L376.3 155.9L375.2 141L374.1 139.1L373 165.6L371.9 140.8L370.8 145.3L369.7 140.3L368.6 143.9L367.5 145.9L366.4 159.2L365.3 140.2L364.2 144.2L363.1 148.1L362 166.2L360.9 156.1L359.8 146.6L358.7 144.2L357.6 142.5L356.5 142.5L355.4 158.9L354.3 164.2L353.2 138.2L352.1 169.7L351 148.5L349.9 139.2L348.8 156.6L347.7 141.7L346.6 143.7L345.5 138.2L344.4 140.8L343.3 143.4L342.2 156.3L341.1 140.3L340 145.9L338.9 140.6L337.8 144.8L336.7 140.3L335.6 143.3L334.5 146.5L333.4 141.4L332.3 175.8L331.2 141.2L330.1 143.4L329 142.4L327.9 154.5L326.8 142L325.7 146.1L324.6 157.2L323.5 145.9L322.4 140.2L321.3 141.1L320.2 139.2L319.1 162L318 145.7L316.9 146.5L315.8 161.3L314.7 145.1L313.6 143.6z" fill="url(#jetB)"/>
<path d="M313.6 9.3V183H500.6" stroke="#3c3c3c" stroke-width="0.8" fill="none"/>
<text class="t" x="310.4" y="11.6" text-anchor="end">0</text>
<text class="t" x="310.4" y="40.5" text-anchor="end">-20</text>
<text class="t" x="310.4" y="69.5" text-anchor="end">-40</text>
<text class="t" x="310.4" y="98.4" text-anchor="end">-60</text>
<text class="t" x="310.4" y="127.4" text-anchor="end">-80</text>
<text class="t" x="310.4" y="156.4" text-anchor="end">-100</text>
<text class="t" x="310.4" y="185.3" text-anchor="end">-120</text>
<text class="t" x="313.6" y="192.6" text-anchor="middle">-1</text>
<text class="t" x="360.4" y="192.6" text-anchor="middle">-0.5</text>
<text class="t" x="407.1" y="192.6" text-anchor="middle">0</text>
<text class="t" x="453.9" y="192.6" text-anchor="middle">0.5</text>
<text class="t" x="500.6" y="192.6" text-anchor="middle">1</text>
<path d="M313.6 9.3h1.8M313.6 38.2h1.8M313.6 67.2h1.8M313.6 96.1h1.8M313.6 125.1h1.8M313.6 154.1h1.8M313.6 183h1.8M313.6 183v-1.8M360.4 183v-1.8M407.1 183v-1.8M453.9 183v-1.8M500.6 183v-1.8" stroke="#3c3c3c" stroke-width="0.5" fill="none"/>
<text class="l" x="407.1" y="202.6" text-anchor="middle">Normalized Doppler Frequency</text>
<rect x="418" y="9.3" width="8" height="23.4" fill="none" stroke="#111" stroke-width="0.6"/>
<path d="M439.2 16.3L428.64 27.51" stroke="#000" stroke-width="0.55" fill="none"/>
<path d="M426.1 30.2L428.35 24.9L428.64 27.51L431.26 27.64z" fill="#000"/>
<text class="a" x="441.3" y="17.2">Target 2</text>
<rect x="520" y="9.3" width="10.3" height="173.7" fill="url(#jet)" stroke="#3c3c3c" stroke-width="0.4"/>
<text class="c" x="532.5" y="11.5">0</text>
<text class="c" x="532.5" y="26.5">-10</text>
<text class="c" x="532.5" y="41.4">-20</text>
<text class="c" x="532.5" y="56.4">-30</text>
<text class="c" x="532.5" y="71.4">-40</text>
<text class="c" x="532.5" y="86.4">-50</text>
<text class="c" x="532.5" y="101.3">-60</text>
<text class="c" x="532.5" y="116.3">-70</text>
<text class="c" x="532.5" y="131.3">-80</text>
<text class="c" x="532.5" y="146.3">-90</text>
<text class="c" x="532.5" y="161.2">-100</text>
<text class="c" x="532.5" y="176.2">-110</text>
<path d="M530.3 9.3h-1.5M530.3 24.3h-1.5M530.3 39.2h-1.5M530.3 54.2h-1.5M530.3 69.2h-1.5M530.3 84.2h-1.5M530.3 99.1h-1.5M530.3 114.1h-1.5M530.3 129.1h-1.5M530.3 144.1h-1.5M530.3 159h-1.5M530.3 174h-1.5" stroke="#3c3c3c" stroke-width="0.5" fill="none"/>
<path d="M359.9 248.3V417.2M405.5 248.3V417.2M451.1 248.3V417.2M496.6 248.3V417.2M314.4 248.3H496.6M314.4 272.4H496.6M314.4 296.6H496.6M314.4 320.7H496.6M314.4 344.8H496.6M314.4 368.9H496.6M314.4 393.1H496.6" stroke="#e2e2e2" stroke-width="0.6" fill="none"/>
<path d="M314.4 291.1L315.5 290.1L316.5 291L317.6 291.5L318.7 292L319.8 290.6L320.8 291.2L321.9 292L323 292.6L324 291.3L325.1 292.8L326.2 290.5L327.3 288.9L328.3 291.8L329.4 292.7L330.5 292.6L331.5 291.5L332.6 292.4L333.7 291.1L334.8 291.3L335.8 288.7L336.9 289.1L338 290.6L339.1 290.4L340.1 291.1L341.2 290.7L342.3 288.9L343.3 290.5L344.4 292.9L345.5 288.5L346.6 290.5L347.6 290.4L348.7 290.6L349.8 291L350.8 291.9L351.9 290.2L353 291.2L354.1 292.7L355.1 287.4L356.2 290L357.3 292.6L358.3 291.9L359.4 291.3L360.5 292.7L361.6 291.6L362.6 290.1L363.7 290L364.8 292.6L365.8 292.4L366.9 288.4L368 290.1L369.1 289.8L370.1 291.1L371.2 291.3L372.3 292L373.3 292L374.4 290L375.5 290.4L376.6 290L377.6 292.1L378.7 290.3L379.8 288.3L380.8 291.6L381.9 291.3L383 292.9L384.1 292.1L385.1 287.8L386.2 290.4L387.3 291.1L388.4 291.9L389.4 288.3L390.8 292.5L391.8 285.9L392.8 279.5L394 278.7L395.2 279.8L396.5 288L397.2 291.5L398.8 292L399.5 289L400.7 283L402.2 279.8L403.8 278.6L405.5 277L407.5 278.6L409.4 280.9L410.5 284L411.4 289.6L412.8 291L413.8 289L414.6 273.3L416.4 255.8L417.6 251.6L418.6 248.3L419.6 251L420.7 253.6L421.8 255.2L422.9 260.2L424.2 272.8L425.1 284.3L426.2 292.5L426.9 287.9L428 291.9L429.1 290.2L430.2 287L431.2 290.6L432.3 292.5L433.4 292.8L434.4 292.7L435.5 292.4L436.6 289.8L437.7 292.5L438.7 290.1L439.8 290.5L440.9 291.8L441.9 292.7L443 290.1L444.1 291.7L445.2 292.9L446.2 292.1L447.3 292.1L448.4 288L449.4 290L450.5 286.1L451.6 289.8L452.7 290.5L453.7 291L454.8 292.6L455.6 291.5L456.9 288L458.2 283L459.3 277.5L460.4 273.3L461.3 275.4L462.1 276.5L463.4 271.9L464.7 268.9L465.4 276L466 284.3L467.1 289L468.2 291.2L468.7 290.3L469.8 287.9L470.9 292.9L471.9 290.3L473 292L474.1 286.1L475.2 290.4L476.2 289.8L477.3 292.3L478.4 290.3L479.5 290L480.5 290.7L481.6 292L482.7 290.3L483.7 291.9L484.8 292.4L485.9 291.3L487 291.3L488 292.6L489.1 289.9L490.2 290L491.2 291.5L492.3 287.7L493.4 292.1L494.5 292.9L495.5 290.9L496.6 287.1L496.6 367.6L496.3 367.6L495.4 366.5L494.3 373L493.5 365.4L492.6 367.6L491 363.3L489.3 357.8L488.2 365.4L487.1 375.3L485.7 366.5L484.3 361.1L483.2 375.3L482.1 396L481 374.1L479.8 363.3L478.4 360L477.3 366.5L476.2 376.4L475.2 367.6L474.1 358.9L473.1 362.2L471.9 366.5L470.6 363.3L469.1 360L468.4 370.9L467.6 384L466.5 374.1L465.4 364.4L464.3 356.8L463.2 348L462.1 340.4L461 332.8L459.9 338.2L458.8 344.7L457.7 350.2L456.6 356.8L455.6 363.3L454.7 373L454.1 365.4L453.4 356.8L451.8 365.4L450.6 362.2L449.4 356.8L448.4 362.2L447.3 369.8L445.1 367.6L442.9 365.4L441.6 373L440.7 384L440.1 376.4L439.2 369.8L437.7 364.4L436.4 361.1L435.1 378.6L434.2 400.4L433.4 380.8L432.6 367.6L431.9 370.9L431.1 379.7L430.5 370.9L428.9 367.6L427.3 364.4L426.2 358.9L425.1 352.4L424 344.7L422.9 337.1L421.8 325.1L420.8 322.3L419.8 328.4L418.8 325.8L417.5 321.8L416 326.2L414.7 331.7L413.6 343.6L412.6 351.3L411 349.3L409.3 346.9L407.7 344.7L406 342.5L403.7 343.6L401.7 344.7L399.5 348L398.6 354.6L397.7 364.4L396.2 350.2L395.2 344.7L394 341.1L392.7 342.3L391.4 345.8L389.7 370.9L388.4 366.2L387.3 379.8L386.2 369.5L385.1 370.3L384.1 382.9L383 365.3L381.9 367.1L380.8 366.1L379.8 379.7L378.7 364.8L377.6 377.4L376.6 375.5L375.5 364.6L374.4 373L373.3 363.2L372.3 371.9L371.2 364.3L370.1 366.5L369.1 379.7L368 362.1L366.9 364.1L365.8 371L364.8 366.1L363.7 363.5L362.6 362.4L361.6 362.6L360.5 373.1L359.4 362.9L358.3 371.5L357.3 364L356.2 365.6L355.1 372.4L354.1 368.7L353 367.5L351.9 372.9L350.8 367L349.8 361.1L348.7 371.5L347.6 364.7L346.6 361L345.5 360.6L344.4 362.5L343.3 365.3L342.3 376.5L341.2 369.5L340.1 364.6L339.1 364.7L338 364.5L336.9 372.4L335.8 364.4L334.8 364.7L333.7 362.7L332.6 367.8L331.5 364.8L330.5 360.6L329.4 362.3L328.3 364.3L327.3 362.7L326.2 368L325.1 364.1L324 366.9L323 372.6L321.9 364.8L320.8 373L319.8 364.6L318.7 360.8L317.6 363.6L316.5 368.9L315.5 361.4L314.4 373.6z" fill="url(#jetD)"/>
<path d="M314.4 248.3V417.2H496.6" stroke="#3c3c3c" stroke-width="0.8" fill="none"/>
<text class="t" x="311.2" y="250.6" text-anchor="end">0</text>
<text class="t" x="311.2" y="274.7" text-anchor="end">-20</text>
<text class="t" x="311.2" y="298.9" text-anchor="end">-40</text>
<text class="t" x="311.2" y="323" text-anchor="end">-60</text>
<text class="t" x="311.2" y="347.1" text-anchor="end">-80</text>
<text class="t" x="311.2" y="371.2" text-anchor="end">-100</text>
<text class="t" x="311.2" y="395.4" text-anchor="end">-120</text>
<text class="t" x="311.2" y="419.5" text-anchor="end">-140</text>
<text class="t" x="314.4" y="426.8" text-anchor="middle">-1</text>
<text class="t" x="359.9" y="426.8" text-anchor="middle">-0.5</text>
<text class="t" x="405.5" y="426.8" text-anchor="middle">0</text>
<text class="t" x="451.1" y="426.8" text-anchor="middle">0.5</text>
<text class="t" x="496.6" y="426.8" text-anchor="middle">1</text>
<path d="M314.4 248.3h1.8M314.4 272.4h1.8M314.4 296.6h1.8M314.4 320.7h1.8M314.4 344.8h1.8M314.4 368.9h1.8M314.4 393.1h1.8M314.4 417.2h1.8M314.4 417.2v-1.8M359.9 417.2v-1.8M405.5 417.2v-1.8M451.1 417.2v-1.8M496.6 417.2v-1.8" stroke="#3c3c3c" stroke-width="0.5" fill="none"/>
<text class="l" x="405.5" y="436.8" text-anchor="middle">Normalized Doppler Frequency</text>
<rect x="414.4" y="248.3" width="9.8" height="24.4" fill="none" stroke="#111" stroke-width="0.6"/>
<path d="M435.5 255.7L427.02 264.18" stroke="#000" stroke-width="0.55" fill="none"/>
<path d="M424.4 266.8L426.8 261.57L427.02 264.18L429.63 264.4z" fill="#000"/>
<text class="a" x="436.9" y="254.8">Target 2</text>
<rect x="514.6" y="248.3" width="10.1" height="168.9" fill="url(#jet)" stroke="#3c3c3c" stroke-width="0.4"/>
<text class="c" x="526.9" y="250.5">0</text>
<text class="c" x="526.9" y="277.2">-20</text>
<text class="c" x="526.9" y="303.9">-40</text>
<text class="c" x="526.9" y="330.6">-60</text>
<text class="c" x="526.9" y="357.3">-80</text>
<text class="c" x="526.9" y="384">-100</text>
<text class="c" x="526.9" y="410.7">-120</text>
<path d="M524.7 248.3h-1.5M524.7 275h-1.5M524.7 301.7h-1.5M524.7 328.4h-1.5M524.7 355.1h-1.5M524.7 381.8h-1.5M524.7 408.5h-1.5" stroke="#3c3c3c" stroke-width="0.5" fill="none"/>
<text class="cap" x="140.5" y="227.5" text-anchor="middle">(<tspan font-weight="bold">a</tspan>)</text>
<text class="cap" x="422.4" y="227.5" text-anchor="middle">(<tspan font-weight="bold">b</tspan>)</text>
<text class="cap" x="140.6" y="458.7" text-anchor="middle">(<tspan font-weight="bold">c</tspan>)</text>
<text class="cap" x="422.4" y="458.7" text-anchor="middle">(<tspan font-weight="bold">d</tspan>)</text>
</svg></body></html>
